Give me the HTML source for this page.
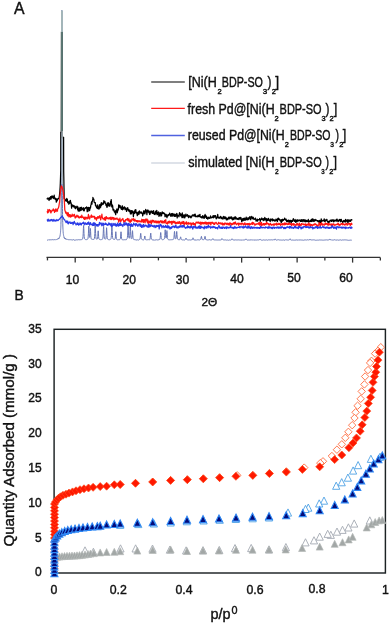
<!DOCTYPE html>
<html><head><meta charset="utf-8"><style>
html,body{margin:0;padding:0;background:#fff;}
svg{display:block;}
text{font-family:'Liberation Sans', Arial, sans-serif;fill:#111;stroke:#111;stroke-width:0.4px;}
</style></head><body>
<svg width="391" height="624" viewBox="0 0 391 624">
<rect width="391" height="624" fill="#fff"/>
<line x1="46.5" y1="257.4" x2="380.3" y2="257.4" stroke="#333" stroke-width="1.3"/>
<line x1="47.46" y1="257.4" x2="47.46" y2="260.4" stroke="#333" stroke-width="1.3"/>
<line x1="75.2" y1="257.4" x2="75.2" y2="262.6" stroke="#333" stroke-width="1.3"/>
<line x1="102.94" y1="257.4" x2="102.94" y2="260.4" stroke="#333" stroke-width="1.3"/>
<line x1="130.68" y1="257.4" x2="130.68" y2="262.6" stroke="#333" stroke-width="1.3"/>
<line x1="158.42" y1="257.4" x2="158.42" y2="260.4" stroke="#333" stroke-width="1.3"/>
<line x1="186.16" y1="257.4" x2="186.16" y2="262.6" stroke="#333" stroke-width="1.3"/>
<line x1="213.9" y1="257.4" x2="213.9" y2="260.4" stroke="#333" stroke-width="1.3"/>
<line x1="241.64" y1="257.4" x2="241.64" y2="262.6" stroke="#333" stroke-width="1.3"/>
<line x1="269.38" y1="257.4" x2="269.38" y2="260.4" stroke="#333" stroke-width="1.3"/>
<line x1="297.12" y1="257.4" x2="297.12" y2="262.6" stroke="#333" stroke-width="1.3"/>
<line x1="324.86" y1="257.4" x2="324.86" y2="260.4" stroke="#333" stroke-width="1.3"/>
<line x1="352.6" y1="257.4" x2="352.6" y2="262.6" stroke="#333" stroke-width="1.3"/>
<line x1="380.34" y1="257.4" x2="380.34" y2="260.4" stroke="#333" stroke-width="1.3"/>
<polyline points="47,239.96 47.2,240.12 47.4,240.19 47.6,240.03 47.8,239.92 48,239.73 48.2,239.76 48.4,239.81 48.6,240.01 48.8,239.96 49,239.74 49.2,239.74 49.4,239.83 49.6,239.9 49.8,239.87 50,239.83 50.2,239.73 50.4,239.76 50.6,239.75 50.8,239.81 51,239.66 51.2,239.71 51.4,239.72 51.6,239.85 51.8,239.81 52,239.93 52.2,239.86 52.4,239.82 52.6,239.61 52.8,239.55 53,239.64 53.2,239.98 53.4,239.96 53.6,239.82 53.8,239.63 54,239.73 54.2,239.75 54.4,239.72 54.6,239.56 54.8,239.57 55,239.61 55.2,239.81 55.4,239.8 55.6,239.7 55.8,239.59 56,239.65 56.2,239.67 56.4,239.56 56.6,239.47 56.8,239.46 57,239.41 57.2,239.24 57.4,239.15 57.6,239.16 57.8,239.24 58,239.11 58,239.04 58.04,238.93 58.08,238.83 58.12,238.79 58.16,238.76 58.2,238.77 58.2,238.91 58.24,238.84 58.28,238.85 58.32,238.71 58.36,238.87 58.4,238.86 58.4,238.88 58.44,238.8 58.48,238.76 58.52,238.72 58.56,238.74 58.6,238.75 58.6,238.9 58.64,238.84 58.68,238.81 58.72,238.67 58.76,238.47 58.8,238.43 58.8,238.43 58.84,238.51 58.88,238.42 58.92,238.32 58.96,238.16 59,238.16 59,238.29 59.04,238.29 59.08,238.23 59.12,238.18 59.16,238.08 59.2,237.97 59.2,237.8 59.24,237.87 59.28,237.85 59.32,237.83 59.36,237.56 59.4,237.46 59.4,237.56 59.44,237.57 59.48,237.47 59.52,237.36 59.56,237.2 59.6,237.14 59.6,237.14 59.64,237.07 59.68,236.9 59.72,236.76 59.76,236.69 59.8,236.61 59.8,236.6 59.84,236.49 59.88,236.3 59.92,236.09 59.96,235.95 60,235.92 60,236.06 60.04,235.79 60.08,235.6 60.12,235.35 60.16,235.18 60.2,234.91 60.2,234.91 60.24,234.78 60.28,234.4 60.32,234.1 60.36,233.65 60.4,233.36 60.4,233.4 60.44,233.1 60.48,232.64 60.52,232.1 60.56,231.59 60.6,231.04 60.6,231.12 60.64,230.53 60.68,230.01 60.72,229.28 60.76,228.65 60.8,227.8 60.8,227.75 60.84,226.8 60.88,225.72 60.92,224.53 60.96,223 61,221.62 61,221.67 61.04,220.11 61.08,218.11 61.12,215.88 61.16,213.24 61.2,210.23 61.2,210.27 61.24,206.89 61.28,203.03 61.32,198.19 61.36,192.51 61.4,185.58 61.4,185.73 61.44,177.59 61.48,167.96 61.52,156.18 61.56,142.07 61.6,125.12 61.6,124.88 61.64,105.01 61.68,82.42 61.72,58.81 61.76,36.27 61.8,18.79 61.8,18.84 61.84,10.39 61.88,13.3 61.92,26.66 61.96,47.12 62,70.72 62,70.9 62.04,94.28 62.08,115.54 62.12,133.76 62.16,149.39 62.2,162.33 62.2,162.35 62.24,172.89 62.28,181.71 62.32,189.19 62.36,195.46 62.4,200.71 62.4,200.6 62.44,204.86 62.48,208.56 62.52,211.8 62.56,214.63 62.6,216.94 62.6,216.94 62.64,219 62.68,220.86 62.72,222.41 62.76,223.69 62.8,224.9 62.8,224.88 62.84,226.09 62.88,227.12 62.92,228.02 62.96,228.91 63,229.68 63,229.73 63.04,230.24 63.08,230.71 63.12,231.31 63.16,231.9 63.2,232.35 63.2,232.28 63.24,232.75 63.28,233.21 63.32,233.62 63.36,233.85 63.4,234.12 63.4,234.06 63.44,234.4 63.48,234.54 63.52,234.78 63.56,234.92 63.6,235.37 63.6,235.5 63.64,235.9 63.68,236.05 63.72,236.08 63.76,236.2 63.8,236.29 63.8,236.36 63.84,236.38 63.88,236.49 63.92,236.61 63.96,236.91 64,237.07 64,237.19 64.04,237.37 64.08,237.39 64.12,237.33 64.16,237.17 64.2,237.34 64.2,237.3 64.24,237.45 64.28,237.6 64.32,237.78 64.36,237.87 64.4,237.88 64.4,237.82 64.44,237.88 64.48,237.98 64.52,238.04 64.56,238.12 64.6,238.05 64.6,238.1 64.64,238.24 64.68,238.39 64.72,238.29 64.76,238.31 64.8,238.32 64.8,238.21 64.84,238.15 64.88,238.25 64.92,238.52 64.96,238.66 65,238.7 65,238.68 65.04,238.5 65.08,238.41 65.12,238.45 65.16,238.66 65.2,238.7 65.2,238.65 65.24,238.66 65.28,238.63 65.32,238.57 65.36,238.54 65.4,238.72 65.4,238.82 65.44,238.7 65.48,238.71 65.52,238.68 65.56,238.9 65.6,238.91 65.6,239.02 65.64,239.04 65.68,239.04 65.72,239.09 65.76,239.16 65.8,239.24 65.8,239.27 65.84,239.16 65.88,239.21 65.92,239.16 65.96,239.15 66,239.1 66.2,239.12 66.4,239.21 66.6,239.28 66.8,239.44 67,239.5 67.2,239.54 67.4,239.4 67.6,239.47 67.8,239.56 68,239.75 68.2,239.79 68.4,239.7 68.6,239.6 68.8,239.58 69,239.54 69.2,239.53 69.4,239.62 69.6,239.66 69.8,239.88 70,239.73 70.2,239.83 70.4,239.63 70.6,239.75 70.8,239.66 71,239.75 71.2,239.73 71.4,239.78 71.6,239.82 71.8,239.94 72,239.93 72.2,239.97 72.4,239.87 72.6,239.91 72.8,240.01 73,239.86 73.2,239.82 73.4,239.54 73.6,239.67 73.8,239.71 74,240.1 74.2,240.14 74.4,240.29 74.6,240.11 74.8,240.06 75,239.97 75.2,240 75.4,240.04 75.6,240.03 75.8,239.95 76,239.83 76.2,239.76 76.4,239.75 76.6,239.89 76.8,239.89 77,239.84 77.2,239.79 77.4,239.85 77.6,239.91 77.8,239.93 78,239.95 78.2,239.8 78.4,239.72 78.6,239.73 78.8,239.71 79,239.8 79.2,239.73 79.4,239.77 79.6,239.79 79.8,239.79 80,239.77 80.2,239.67 80.4,239.71 80.6,239.94 80.8,239.82 81,239.8 81.2,239.56 81.4,239.74 81.6,239.67 81.8,239.45 82,239.39 82.2,239.22 82.4,239.2 82.6,238.71 82.8,238.08 83,236.55 83.2,233.49 83.4,228.65 83.6,225.47 83.6,225.44 83.8,228.53 84,233.54 84.2,236.72 84.4,238.28 84.6,238.85 84.8,239.13 85,239.27 85.2,239.43 85.4,239.46 85.6,239.61 85.8,239.6 86,239.72 86.2,239.62 86.4,239.73 86.6,239.51 86.8,239.6 87,239.45 87.2,239.44 87.4,239.19 87.6,239.19 87.8,239.02 88,238.33 88.2,236.73 88.4,233.77 88.6,229.1 88.8,226.11 88.8,226 89,229.13 89.2,233.64 89.4,236.56 89.6,237.4 89.8,237.07 90,235.11 90.2,231.33 90.4,228.48 90.4,228.46 90.6,231.43 90.8,235.6 91,237.83 91.2,238.7 91.4,239.08 91.6,239.22 91.8,239.27 92,239.36 92.2,239.36 92.4,239.43 92.6,239.36 92.8,239.45 93,239.44 93.2,239.44 93.4,239.44 93.6,239.51 93.8,239.56 94,239.23 94.2,238.89 94.4,238.18 94.6,236.78 94.8,233.44 95,228.45 95.2,225.38 95.2,225.46 95.4,228.59 95.6,233.42 95.8,236.55 96,238.1 96.2,238.88 96.4,239.11 96.6,239.21 96.8,239.11 97,239.13 97.2,239.07 97.4,238.89 97.6,238.17 97.8,236.28 98,233.04 98.2,230.8 98.2,230.91 98.4,233.18 98.6,236.44 98.8,238.26 99,238.98 99.2,239.22 99.4,239.34 99.6,239.53 99.8,239.59 100,239.7 100.2,239.71 100.4,239.74 100.6,239.67 100.8,239.62 101,239.71 101.2,239.74 101.4,239.63 101.6,239.45 101.8,239.43 102,239.45 102.2,239.46 102.4,239.24 102.6,239.06 102.8,238.36 103,237.01 103.2,233.86 103.4,229.36 103.6,226.42 103.6,226.38 103.8,229.3 104,233.8 104.2,236.85 104.4,238.19 104.6,238.69 104.8,238.89 105,239.04 105.2,239.2 105.4,239.19 105.6,238.9 105.8,238.67 106,237.85 106.2,235.58 106.4,230.97 106.6,227.71 106.6,227.7 106.8,230.87 107,235.44 107.2,237.86 107.4,238.91 107.6,239.11 107.8,239.24 108,239.28 108.2,239.44 108.4,239.54 108.6,239.6 108.8,239.63 109,239.67 109.2,239.79 109.4,239.75 109.6,239.65 109.8,239.51 110,239.58 110.2,239.55 110.4,239.46 110.6,239.19 110.8,239.03 111,238.63 111.2,237.63 111.4,235.34 111.6,231.16 111.8,226.43 111.9,225.59 112,226.51 112.2,231.26 112.4,235.4 112.6,237.65 112.8,238.55 113,238.99 113.2,239.03 113.4,239.22 113.6,239.26 113.8,239.35 114,239.45 114.2,239.45 114.4,239.48 114.6,239.37 114.8,239.26 115,239.14 115.2,238.5 115.4,236.96 115.6,233.85 115.8,231.75 115.8,231.71 116,233.89 116.2,236.83 116.4,238.48 116.6,239.24 116.8,239.53 117,239.64 117.2,239.59 117.4,239.83 117.6,239.98 117.8,240.07 118,239.96 118.2,239.81 118.4,239.77 118.6,239.73 118.8,239.78 119,239.72 119.2,239.63 119.4,239.63 119.6,239.66 119.8,239.49 120,239.33 120.2,239.14 120.4,238.61 120.6,237 120.8,233.88 121,231.88 121,231.78 121.2,233.91 121.4,236.76 121.6,238.61 121.8,239.29 122,239.48 122.2,239.48 122.4,239.62 122.6,239.87 122.8,239.79 123,239.69 123.2,239.57 123.4,239.69 123.6,239.83 123.8,239.93 124,239.8 124.2,239.72 124.4,239.63 124.6,239.78 124.8,239.86 125,239.83 125.2,239.69 125.4,239.69 125.6,239.76 125.8,239.98 126,239.87 126.2,239.85 126.4,239.51 126.6,239.38 126.8,239.07 127,238.88 127.2,238.41 127.4,237.44 127.6,235.2 127.8,230.98 128,226.17 128.1,225.23 128.2,226.16 128.4,231.02 128.6,235.2 128.8,237.37 129,238.09 129.2,238.28 129.4,238.14 129.6,237.33 129.8,235.39 130,231.59 130.2,227.24 130.3,226.28 130.4,226.93 130.6,231.35 130.8,235.32 131,237.55 131.2,238.41 131.4,238.67 131.6,238.74 131.8,238.41 132,237.44 132.2,234.87 132.4,231.43 132.5,230.68 132.6,231.32 132.8,234.83 133,237.31 133.2,238.44 133.4,238.99 133.6,239.3 133.8,239.55 134,239.54 134.2,239.6 134.4,239.61 134.6,239.61 134.8,239.54 135,239.61 135.2,239.74 135.4,239.8 135.6,239.78 135.8,239.82 136,240.02 136.2,239.97 136.4,239.97 136.6,239.99 136.8,240.06 137,240.12 137.2,239.8 137.4,239.89 137.6,239.78 137.8,239.83 138,239.77 138.2,239.84 138.4,240.03 138.6,240.04 138.8,239.95 139,239.78 139.2,239.62 139.4,239.55 139.6,239.52 139.8,239.31 140,238.85 140.2,237.8 140.4,235.81 140.6,233.62 140.7,233.26 140.8,233.61 141,235.75 141.2,237.56 141.4,238.64 141.6,239.18 141.8,239.41 142,239.52 142.2,239.53 142.4,239.7 142.6,239.77 142.8,239.78 143,239.79 143.2,239.85 143.4,239.89 143.6,239.86 143.8,239.7 144,239.56 144.2,239.14 144.4,238.48 144.6,237.05 144.8,235.97 144.8,235.99 145,236.92 145.2,238.54 145.4,239.27 145.6,239.61 145.8,239.58 146,239.61 146.2,239.71 146.4,239.76 146.6,239.84 146.8,239.75 147,239.81 147.2,239.77 147.4,239.74 147.6,239.76 147.8,239.67 148,239.63 148.2,239.55 148.4,239.61 148.6,239.83 148.8,239.81 149,239.9 149.2,239.88 149.4,239.92 149.6,239.8 149.8,239.52 150,238.95 150.2,237.81 150.4,235.82 150.6,233.53 150.7,233.02 150.8,233.29 151,235.67 151.2,237.75 151.4,238.85 151.6,239.28 151.8,239.51 152,239.7 152.2,239.82 152.4,239.87 152.6,239.81 152.8,239.77 153,239.77 153.2,239.94 153.4,240.07 153.6,239.92 153.8,239.86 154,239.82 154.2,240.03 154.4,240.16 154.6,240.05 154.8,239.94 155,239.76 155.2,239.88 155.4,239.81 155.6,239.96 155.8,239.97 156,240.1 156.2,239.86 156.4,239.75 156.6,239.77 156.8,239.82 157,239.84 157.2,239.78 157.4,239.93 157.6,239.96 157.8,239.98 158,239.87 158.2,239.84 158.4,239.8 158.6,239.86 158.8,239.81 159,239.86 159.2,239.64 159.4,239.65 159.6,239.45 159.8,239.42 160,238.84 160.2,237.74 160.4,235.58 160.6,233.02 160.7,232.49 160.8,232.85 161,235.41 161.2,237.47 161.4,238.63 161.6,239.09 161.8,239.36 162,239.47 162.2,239.44 162.4,239.63 162.6,239.69 162.8,239.93 163,239.77 163.2,239.64 163.4,239.5 163.6,239.39 163.8,239.4 164,239.21 164.2,239.09 164.4,238.65 164.6,237.65 164.8,235.58 165,232.15 165.2,229.84 165.2,229.78 165.4,231.78 165.6,235.23 165.8,237.18 166,238.05 166.2,238.12 166.4,237.21 166.6,234.75 166.8,231.25 166.9,230.59 167,231.47 167.2,234.92 167.4,237.49 167.6,238.63 167.8,239.06 168,239.33 168.2,239.49 168.4,239.69 168.6,239.74 168.8,239.65 169,239.62 169.2,239.63 169.4,239.71 169.6,239.87 169.8,239.99 170,239.95 170.2,239.82 170.4,239.8 170.6,239.72 170.8,239.74 171,239.67 171.2,239.71 171.4,239.67 171.6,239.71 171.8,239.66 172,239.65 172.2,239.56 172.4,239.66 172.6,239.59 172.8,239.67 173,239.58 173.2,239.56 173.4,239.32 173.6,239.04 173.8,238.42 174,237.19 174.2,234.76 174.4,231.96 174.5,231.39 174.6,231.86 174.8,234.73 175,237.09 175.2,238.34 175.4,238.83 175.6,238.84 175.8,238.83 176,238.24 176.2,237.11 176.4,234.72 176.6,232.01 176.7,231.41 176.8,231.86 177,234.66 177.2,237.11 177.4,238.37 177.6,238.97 177.8,239.34 178,239.43 178.2,239.51 178.4,239.56 178.6,239.73 178.8,239.69 179,239.73 179.2,239.64 179.4,239.73 179.6,239.72 179.8,239.54 180,239.22 180.2,238.47 180.4,237.6 180.6,236.88 180.6,236.84 180.8,237.39 181,238.49 181.2,239.21 181.4,239.57 181.6,239.63 181.8,239.63 182,239.71 182.2,239.81 182.4,239.85 182.6,239.87 182.8,239.78 183,239.61 183.2,239.65 183.4,239.84 183.6,239.93 183.8,239.84 184,239.76 184.2,239.91 184.4,239.99 184.6,240.04 184.8,239.94 185,239.87 185.2,239.7 185.4,239.43 185.6,239.02 185.8,238.41 186,238.14 186,238.03 186.2,238.42 186.4,238.92 186.6,239.43 186.8,239.43 187,239.55 187.2,239.63 187.4,239.81 187.6,239.91 187.8,239.76 188,239.91 188.2,239.94 188.4,240.06 188.6,239.99 188.8,239.97 189,240.07 189.2,240.06 189.4,239.94 189.6,239.83 189.8,239.9 190,240.03 190.2,240.02 190.4,239.97 190.6,239.94 190.8,240 191,239.85 191.2,239.77 191.4,239.76 191.6,239.83 191.8,239.89 192,239.92 192.2,239.8 192.4,239.55 192.6,238.91 192.8,238.26 193,237.87 193,237.81 193.2,238.08 193.4,238.81 193.6,239.36 193.8,239.83 194,239.86 194.2,239.93 194.4,239.93 194.6,239.99 194.8,239.91 195,239.96 195.2,239.85 195.4,239.95 195.6,240.05 195.8,240.12 196,240.22 196.2,240.03 196.4,240.06 196.6,239.96 196.8,240.01 197,239.91 197.2,239.84 197.4,239.84 197.6,239.79 197.8,239.79 198,239.81 198.2,239.87 198.4,239.86 198.6,239.74 198.8,239.78 199,239.81 199.2,239.88 199.4,239.85 199.6,239.98 199.8,239.91 200,239.76 200.2,239.59 200.4,239.52 200.6,239.46 200.8,238.91 201,238.18 201.2,237.05 201.4,236.51 201.4,236.33 201.6,237 201.8,238.11 202,239.11 202.2,239.48 202.4,239.59 202.6,239.6 202.8,239.61 203,239.74 203.2,239.66 203.4,239.71 203.6,239.65 203.8,239.67 204,239.56 204.2,239.33 204.4,238.9 204.6,238.09 204.8,237.05 205,236.4 205,236.28 205.2,236.92 205.4,238.14 205.6,239.12 205.8,239.6 206,239.74 206.2,239.78 206.4,239.71 206.6,239.77 206.8,239.89 207,240.04 207.2,240.03 207.4,239.99 207.6,239.96 207.8,239.96 208,239.94 208.2,239.97 208.4,239.89 208.6,239.85 208.8,239.87 209,239.91 209.2,239.79 209.4,239.76 209.6,239.63 209.8,239.92 210,239.96 210.2,240.16 210.4,239.99 210.6,239.86 210.8,239.8 211,239.84 211.2,239.85 211.4,239.87 211.6,239.9 211.8,239.97 212,239.85 212.2,239.57 212.4,239.35 212.6,239.03 212.8,238.73 213,238.56 213,238.71 213.2,238.98 213.4,239.42 213.6,239.77 213.8,239.94 214,239.97 214.2,239.95 214.4,239.97 214.6,239.94 214.8,239.84 215,239.85 215.2,239.85 215.4,239.96 215.6,239.94 215.8,240.08 216,240.11 216.2,240.05 216.4,240.03 216.6,239.92 216.8,240.09 217,240.06 217.2,240.08 217.4,240.04 217.6,239.97 217.8,239.99 218,239.97 218.2,240 218.4,240 218.6,239.91 218.8,239.95 219,239.85 219.2,239.95 219.4,239.95 219.6,240.07 219.8,239.99 220,240.15 220.2,240.08 220.4,240.12 220.6,239.85 220.8,239.94 221,239.86 221.2,239.89 221.4,239.55 221.6,239.25 221.8,238.69 222,238.54 222,238.5 222.2,238.74 222.4,239.18 222.6,239.47 222.8,239.65 223,239.76 223.2,239.75 223.4,239.89 223.6,239.83 223.8,239.9 224,239.88 224.2,239.95 224.4,239.98 224.6,239.95 224.8,239.97 225,240.06 225.2,240.07 225.4,239.96 225.6,239.85 225.8,239.82 226,239.92 226.2,240.02 226.4,240.08 226.6,240.12 226.8,240.07 227,240.02 227.2,239.91 227.4,240.05 227.6,239.94 227.8,239.99 228,239.89 228.2,240.03 228.4,240.16 228.6,240.21 228.8,240.25 229,240.04 229.2,240 229.4,239.92 229.6,239.98 229.8,239.96 230,239.94 230.2,239.98 230.4,240.06 230.6,240.15 230.8,240.1 231,239.84 231.2,239.77 231.4,239.68 231.6,239.52 231.8,239.04 232,238.79 232,238.75 232.2,239.05 232.4,239.32 232.6,239.59 232.8,239.69 233,239.73 233.2,239.82 233.4,239.88 233.6,239.9 233.8,239.97 234,239.9 234.2,240.03 234.4,239.99 234.6,240 234.8,239.93 235,239.8 235.2,239.79 235.4,239.78 235.6,240 235.8,240.11 236,240.07 236.2,240.02 236.4,239.96 236.6,240.03 236.8,240.01 237,240.05 237.2,240.03 237.4,239.99 237.6,239.95 237.8,239.92 238,239.95 238.2,239.93 238.4,239.95 238.6,239.89 238.8,239.91 239,240.01 239.2,240.09 239.4,240.01 239.6,240.01 239.8,239.99 240,240.09 240.2,240.12 240.4,240.05 240.6,240 240.8,239.88 241,239.89 241.2,240.02 241.4,240.12 241.6,240.07 241.8,239.96 242,239.86 242.2,240.05 242.4,240.03 242.6,240.05 242.8,239.99 243,240.01 243.2,240.02 243.4,239.99 243.6,239.95 243.8,239.98 244,239.92 244.2,239.92 244.4,239.87 244.6,239.9 244.8,239.93 245,239.82 245.2,239.76 245.4,239.51 245.6,239.35 245.8,238.97 246,238.8 246,238.79 246.2,238.94 246.4,239.35 246.6,239.55 246.8,239.79 247,239.82 247.2,239.95 247.4,240.03 247.6,240.17 247.8,240.14 248,240.06 248.2,239.92 248.4,239.96 248.6,240.09 248.8,240.15 249,240.07 249.2,239.99 249.4,239.98 249.6,240.02 249.8,239.96 250,239.78 250.2,239.74 250.4,239.86 250.6,240.04 250.8,239.93 251,239.86 251.2,239.73 251.4,240 251.6,240.01 251.8,240.06 252,239.98 252.2,239.92 252.4,240.03 252.6,239.98 252.8,239.95 253,239.96 253.2,239.87 253.4,240.04 253.6,240 253.8,240.02 254,239.81 254.2,239.91 254.4,240.07 254.6,240.11 254.8,240.11 255,240.03 255.2,240.09 255.4,239.98 255.6,239.95 255.8,240.06 256,240.08 256.2,239.97 256.4,240.01 256.6,240.06 256.8,240.11 257,239.95 257.2,239.83 257.4,239.9 257.6,239.95 257.8,240.02 258,239.98 258.2,239.89 258.4,239.93 258.6,239.95 258.8,240.13 259,240 259.2,240 259.4,239.73 259.6,239.5 259.8,239.22 260,239.04 260,239.04 260.2,239.11 260.4,239.48 260.6,239.69 260.8,239.93 261,239.96 261.2,240.05 261.4,240.07 261.6,240.14 261.8,240.21 262,240.14 262.2,240.15 262.4,240.21 262.6,240.14 262.8,240.01 263,239.9 263.2,239.93 263.4,239.85 263.6,239.92 263.8,239.96 264,240.06 264.2,240.09 264.4,240.05 264.6,240.04 264.8,239.97 265,239.98 265.2,239.98 265.4,240.01 265.6,240.04 265.8,240.13 266,240.03 266.2,240.04 266.4,239.87 266.6,239.91 266.8,239.85 267,240.03 267.2,240.09 267.4,240.16 267.6,240.2 267.8,240.24 268,240.26 268.2,240.09 268.4,239.9 268.6,239.85 268.8,239.87 269,239.93 269.2,239.91 269.4,239.82 269.6,239.96 269.8,239.91 270,239.97 270.2,239.91 270.4,239.88 270.6,239.98 270.8,240.01 271,240.09 271.2,239.96 271.4,239.87 271.6,239.77 271.8,239.93 272,239.96 272.2,240.03 272.4,239.88 272.6,239.91 272.8,240.05 273,240.03 273.2,239.95 273.4,239.73 273.6,239.84 273.8,239.88 274,240.11 274.2,240 274.4,239.84 274.6,239.41 274.8,239.16 275,238.9 275,239 275.2,239.14 275.4,239.53 275.6,239.65 275.8,239.83 276,240.04 276.2,240.1 276.4,240.08 276.6,240.08 276.8,240.08 277,240.03 277.2,239.84 277.4,239.87 277.6,239.89 277.8,239.94 278,239.91 278.2,239.81 278.4,239.75 278.6,239.73 278.8,239.88 279,239.94 279.2,239.94 279.4,239.95 279.6,240.02 279.8,240.02 280,239.94 280.2,239.95 280.4,240.02 280.6,240.01 280.8,239.98 281,239.95 281.2,240.08 281.4,240.01 281.6,240.07 281.8,240.02 282,240.01 282.2,240.03 282.4,240.06 282.6,240.04 282.8,240.1 283,239.96 283.2,239.99 283.4,239.84 283.6,239.96 283.8,240.06 284,240.08 284.2,240.12 284.4,240.11 284.6,240.2 284.8,240.3 285,240.29 285.2,240.02 285.4,239.81 285.6,239.72 285.8,239.9 286,239.93 286.2,239.92 286.4,239.84 286.6,239.81 286.8,239.88 287,239.78 287.2,239.86 287.4,239.88 287.6,240.05 287.8,240 288,239.93 288.2,239.92 288.4,239.96 288.6,240.09 288.8,240.11 289,239.99 289.2,239.81 289.4,239.74 289.6,239.57 289.8,239.28 290,238.86 290,238.77 290.2,238.85 290.4,239.39 290.6,239.7 290.8,239.9 291,239.85 291.2,240.04 291.4,240.19 291.6,240.13 291.8,239.95 292,239.79 292.2,239.77 292.4,239.79 292.6,240.04 292.8,240.27 293,240.26 293.2,240.07 293.4,239.98 293.6,240.05 293.8,239.98 294,239.84 294.2,239.89 294.4,240.01 294.6,240.25 294.8,240.14 295,240.22 295.2,240.07 295.4,240.09 295.6,240.09 295.8,240.2 296,240.14 296.2,240.09 296.4,239.98 296.6,239.91 296.8,239.89 297,240.03 297.2,240.19 297.4,240.06 297.6,240.03 297.8,240.02 298,240.07 298.2,239.84 298.4,239.86 298.6,239.96 298.8,240.16 299,239.97 299.2,239.81 299.4,239.85 299.6,240.02 299.8,240.16 300,240.07 300.2,240.04 300.4,239.97 300.6,239.97 300.8,239.88 301,239.93 301.2,239.93 301.4,240.05 301.6,240.08 301.8,240.06 302,240.12 302.2,239.99 302.4,240.08 302.6,240.02 302.8,240.19 303,240.01 303.2,240 303.4,240 303.6,240.25 303.8,240.03 304,239.89 304.2,239.79 304.4,239.91 304.6,240.05 304.8,240.01 305,240.13 305.2,240.07 305.4,240.02 305.6,239.86 305.8,239.79 306,239.9 306.2,240.03 306.4,240.05 306.6,240.11 306.8,239.93 307,239.73 307.2,239.64 307.4,239.78 307.6,239.97 307.8,239.92 308,239.91 308.2,240.06 308.4,240.12 308.6,240.03 308.8,239.82 309,239.94 309.2,239.93 309.4,239.91 309.6,239.62 309.8,239.38 310,239.09 310,239.08 310.2,239.24 310.4,239.66 310.6,239.89 310.8,239.92 311,239.94 311.2,239.86 311.4,239.96 311.6,239.93 311.8,240 312,239.88 312.2,239.92 312.4,239.87 312.6,239.94 312.8,239.96 313,239.98 313.2,239.97 313.4,239.82 313.6,239.91 313.8,239.88 314,240.01 314.2,239.88 314.4,239.99 314.6,239.94 314.8,240.04 315,240.05 315.2,240.23 315.4,240.27 315.6,240.23 315.8,240.04 316,240.05 316.2,240.08 316.4,240.23 316.6,240.19 316.8,240.12 317,240.02 317.2,240.04 317.4,240.12 317.6,240.09 317.8,240.08 318,240.01 318.2,240.14 318.4,240.1 318.6,240.16 318.8,240.17 319,240.21 319.2,240.04 319.4,240.02 319.6,239.96 319.8,239.98 320,239.97 320.2,239.88 320.4,240.02 320.6,240.08 320.8,240.14 321,240.15 321.2,240.06 321.4,240.14 321.6,239.98 321.8,239.99 322,239.96 322.2,240.1 322.4,240.06 322.6,240.13 322.8,240.1 323,240.14 323.2,240.16 323.4,240.15 323.6,240.18 323.8,240.1 324,240.12 324.2,240.02 324.4,240.05 324.6,240.1 324.8,240.13 325,240.13 325.2,240.08 325.4,240.01 325.6,239.98 325.8,240.04 326,240.08 326.2,239.94 326.4,239.86 326.6,239.85 326.8,240.1 327,240.08 327.2,240.12 327.4,239.95 327.6,239.97 327.8,239.93 328,239.9 328.2,239.88 328.4,239.86 328.6,240 328.8,239.91 329,239.94 329.2,239.76 329.4,239.65 329.6,239.58 329.8,239.23 330,239.28 330,239.07 330.2,239.36 330.4,239.67 330.6,239.81 330.8,239.81 331,239.79 331.2,239.97 331.4,240.03 331.6,239.95 331.8,239.88 332,239.93 332.2,240.04 332.4,240.08 332.6,240.08 332.8,240.06 333,240.22 333.2,240.18 333.4,240.12 333.6,239.94 333.8,239.94 334,239.89 334.2,239.89 334.4,239.81 334.6,239.71 334.8,239.7 335,239.83 335.2,240.05 335.4,240.06 335.6,240.04 335.8,240 336,240.09 336.2,240.09 336.4,240.04 336.6,240.12 336.8,240.11 337,240.08 337.2,239.84 337.4,239.89 337.6,239.91 337.8,240.15 338,240.09 338.2,240.17 338.4,240.1 338.6,240.24 338.8,240.09 339,240.13 339.2,240.02 339.4,240.11 339.6,239.98 339.8,239.95 340,239.93 340.2,239.8 340.4,239.86 340.6,239.89 340.8,239.98 341,239.94 341.2,240.09 341.4,240.18 341.6,240.16 341.8,240.12 342,240.04 342.2,240.06 342.4,239.9 342.6,239.94 342.8,240 343,240.08 343.2,240.05 343.4,239.99 343.6,239.95 343.8,239.98 344,239.98 344.2,239.93 344.4,239.9 344.6,239.91 344.8,239.89 345,239.97 345.2,239.95 345.4,239.96 345.6,239.89 345.8,239.87 346,239.92 346.2,239.97 346.4,239.99 346.6,239.94 346.8,240.03 347,240.1 347.2,240.17 347.4,240.14 347.6,240.1 347.8,240.07 348,240.02 348.2,240.17 348.4,240.26 348.6,240.32 348.8,240.12 349,240.09 349.2,240.17 349.4,240.23 349.6,240.26 349.8,240.19 350,240.21 350.2,240.24 350.4,240.17 350.6,240.16 350.8,240.01 351,240.17 351.2,240.16 351.4,240.21 351.6,240.13 351.8,240.07" fill="none" stroke="#6676b6" stroke-width="1.0" stroke-linejoin="round"/>
<polyline points="47,198.16 47.3,199.14 47.6,198.83 47.9,197.84 48.2,198.53 48.5,198.43 48.8,199.53 49.1,200.49 49.4,197.93 49.7,197.74 50,199.41 50,198.28 50.3,197.82 50.6,196.64 50.9,197.7 51.2,199.04 51.5,196.09 51.8,197.75 52.1,196.48 52.4,196.7 52.7,196.01 53,197.76 53,196.41 53.3,198.53 53.6,197.88 53.9,197.9 54.2,195.21 54.5,198.05 54.8,198.5 55.1,199.25 55.4,198.09 55.7,199.25 56,198.53 56,199.33 56.3,202.09 56.6,199.23 56.9,199.54 57.2,200.95 57.5,198.95 57.8,198.93 58.1,199 58.4,198.94 58.5,198.52 58.7,198.39 59,198.05 59.3,196.36 59.3,197.06 59.6,193.92 59.8,191.74 59.9,191.09 60.2,185.92 60.3,183.77 60.5,177.95 60.75,170.24 60.8,132.02 60.8,132.19 61.1,132.02 61.3,132.25 61.4,82.45 61.5,31.77 61.7,31.95 62,31.83 62,31.88 62.3,111.03 62.4,137.72 62.6,137.73 62.9,138.07 63.2,138 63.5,137.27 63.6,137.43 63.7,171.98 63.8,176.54 64,187.69 64.1,193.06 64.2,198.51 64.4,198.56 64.7,198.72 65,199.41 65.2,199.89 65.3,200.38 65.6,199.88 65.9,200.07 66.2,201.48 66.5,200.05 66.5,199.61 66.8,198.42 67.1,199.96 67.4,199.54 67.7,202.63 68,202.3 68,201.39 68.3,202.78 68.6,201.94 68.9,204.26 69.2,202.45 69.5,203.51 69.8,201.03 70,203.09 70.1,200.68 70.4,200.36 70.7,202.8 71,202.55 71.3,204.74 71.6,208.15 71.9,204.34 72,204.65 72.2,205.64 72.5,206.02 72.8,205.83 73.1,205.3 73.4,206.75 73.7,206.88 74,205.53 74.3,207.06 74.6,206.98 74.9,206.42 75,208.23 75.2,206.29 75.5,208.73 75.8,207.79 76.1,207.59 76.4,206.85 76.7,207.7 77,206.13 77.3,207.19 77.6,209.62 77.9,206.99 78.2,211.06 78.5,208.05 78.8,210.99 79.1,209.11 79.4,211.2 79.7,209.75 80,207.45 80,210.46 80.3,210.65 80.6,208.32 80.9,207.59 81.2,208.1 81.5,207.25 81.8,210.28 82.1,208.28 82.4,209.32 82.7,208.4 83,208.73 83.3,207.6 83.6,210.7 83.9,209.41 84.2,210.87 84.5,209.48 84.8,208.25 85.1,208.38 85.4,207.6 85.7,208.2 86,207.79 86.3,207.88 86.6,206.92 86.9,208.38 87.2,211.71 87.5,208.24 87.8,207.6 88,209.85 88.1,211.13 88.4,207.27 88.7,209.06 89,208.81 89.3,207.63 89.6,210.68 89.9,208.92 90.2,208.48 90.4,207.05 90.5,207.81 90.8,205.4 91.1,204.6 91.4,202.51 91.7,201.76 92,204.05 92,201.89 92.3,201.5 92.6,200.07 92.9,198.5 92.9,197.36 93.2,199.31 93.5,198.82 93.8,199.37 94,199.94 94.1,201.86 94.4,202.47 94.7,202.67 95,202.84 95.3,202.65 95.5,205.68 95.6,205.65 95.9,205.12 96.2,206.73 96.5,207.32 96.7,207.79 96.8,207.95 97.1,206.07 97.4,208.54 97.7,204.95 98,207.38 98.3,206.9 98.6,208.28 98.9,209.19 99.2,208.74 99.5,205.46 99.8,204.53 100.1,207.8 100.3,204.89 100.4,206.6 100.7,207.13 101,203.59 101.3,202.63 101.6,205.31 101.9,204.7 102.2,204.11 102.5,204.23 102.8,203.28 103.1,202.75 103.4,204.1 103.7,202.27 103.9,200.55 104,202.86 104.3,202.54 104.6,202.75 104.9,201.52 105.2,202.75 105.5,203.36 105.8,204.41 106.1,205.57 106.4,204.77 106.5,205.98 106.7,205.87 107,207.44 107.3,202.87 107.6,206.25 107.9,204.65 108.2,204.83 108.5,202.75 108.8,204.24 109,206.02 109.1,204.46 109.4,205.16 109.7,204.01 110,206.2 110.3,204.32 110.6,201.32 110.9,203.12 111,200.54 111.2,199.56 111.5,203.39 111.8,206.96 112.1,205.87 112.4,204.98 112.7,206.22 113,210.06 113,209.26 113.3,209.19 113.6,209.4 113.9,209.49 114.2,211.56 114.5,212.06 114.8,211.82 115.1,211.05 115.4,213.7 115.5,212.51 115.7,214.67 116,210.31 116.3,211.17 116.6,210.75 116.9,208.86 117.2,212.78 117.5,211.87 117.8,209.25 118.1,210.2 118.4,209.33 118.7,204.8 119,207.64 119,206.8 119.3,207.01 119.6,205.35 119.9,205.94 120.2,205.76 120.5,207.85 120.8,207.17 121.1,207.37 121.4,209.36 121.7,206.86 122,207.71 122.3,205.75 122.6,209.79 122.9,208.9 123.2,209.11 123.5,208.62 123.6,207.3 123.8,207.7 124.1,207.46 124.4,206.88 124.7,207.21 125,209.69 125.3,209.18 125.6,208.32 125.9,207.93 126.2,208.56 126.5,211.36 126.8,209.93 127.1,209.51 127.4,209.19 127.7,207.67 128,208.94 128.3,210.99 128.6,210.08 128.9,209.77 129.2,210.82 129.5,211.7 129.8,210.06 130,212.03 130.1,211.1 130.4,213.98 130.7,210.91 131,213.13 131.3,213.92 131.6,210.63 131.9,210.81 132.2,212.01 132.5,212.61 132.8,210.99 133.1,213.46 133.4,216.58 133.7,213.41 134,213.32 134.3,211.49 134.6,213.46 134.9,210.53 135.2,209.87 135.5,212.54 135.8,209.56 136.1,212.4 136.4,213.02 136.7,212.58 137,213.8 137.3,215.58 137.6,213.5 137.9,212.88 138.2,211.9 138.5,213.44 138.8,214.61 139.1,213.94 139.4,210.9 139.7,211.29 140,212.31 140,212.87 140.3,212.61 140.6,212.96 140.9,213.08 141.2,211.94 141.5,212.19 141.8,213.32 142.1,213 142.4,213.77 142.7,215.97 143,214.57 143.3,213.7 143.6,210.91 143.9,213.46 144.2,210.83 144.5,211.14 144.8,213.97 145.1,213.07 145.4,211.77 145.7,209.31 146,210.78 146.3,210.27 146.6,212.04 146.9,214.65 147.2,211.78 147.5,210.66 147.8,209.93 148.1,211.78 148.4,212.03 148.7,210.88 149,212.75 149.3,211.74 149.6,214.42 149.9,214.54 150,213.92 150.2,211 150.5,213.1 150.8,212.36 151.1,212.21 151.4,211.96 151.7,210.92 152,211.55 152.3,213.3 152.6,211.5 152.9,212.46 153.2,213.5 153.5,210.51 153.8,211.73 154.1,213.98 154.4,214.29 154.7,213.32 155,214.54 155.3,212.92 155.6,211.53 155.9,211.06 156.2,213.58 156.5,213.12 156.8,210.48 157.1,214.76 157.4,213.4 157.7,214.47 158,212.46 158.3,212.8 158.6,211.95 158.9,216.32 159.2,213.26 159.5,215.55 159.8,212.95 160.1,214.5 160.4,212.68 160.7,214.51 161,216.09 161.3,213.24 161.6,215.59 161.9,213.8 162.2,211.87 162.5,212.47 162.8,212.8 163.1,213.45 163.4,213.1 163.7,212.74 164,213.93 164.3,213.35 164.6,213.34 164.9,215.17 165,216.72 165.2,214.11 165.5,215.72 165.8,215.52 166.1,214.4 166.4,216.68 166.7,215.13 167,217.7 167.3,215.05 167.6,216.09 167.9,215.52 168.2,214.74 168.5,215.69 168.8,214.56 169.1,215.12 169.4,214.03 169.7,213.05 170,214.23 170.3,214.3 170.6,216.04 170.9,214.35 171.2,215.6 171.5,213.55 171.8,216.18 172.1,214.69 172.4,213.49 172.7,214.81 173,216.18 173.3,214 173.6,214.08 173.9,214.62 174.2,214.19 174.5,216.32 174.8,215.15 175.1,214.25 175.4,216.26 175.7,214.88 176,216.11 176.3,214.46 176.6,213.9 176.9,213.41 177.2,217.94 177.5,214.92 177.8,215.84 178.1,215.35 178.4,215.73 178.7,215.71 179,216.8 179.3,213.75 179.6,212.72 179.9,213.55 180.2,213.43 180.5,215.52 180.8,216 181.1,214.4 181.4,214.23 181.7,215.88 182,217.54 182.3,212.97 182.6,216.93 182.9,215.13 183.2,217.68 183.5,215.01 183.8,215.83 184.1,214.71 184.4,215.19 184.7,217.95 185,217.14 185.3,215.56 185.6,214.95 185.9,214.06 186.2,216 186.5,215.93 186.8,215.73 187.1,216.02 187.4,214.65 187.7,215.34 188,215.43 188.3,216.8 188.6,217.68 188.9,215.84 189.2,215.73 189.5,216.81 189.8,216.57 190.1,216.71 190.4,217.29 190.7,216.16 191,217.87 191.3,216.94 191.6,216.86 191.9,216.23 192.2,215.31 192.5,214.9 192.8,215.51 193.1,215.3 193.4,215.75 193.7,215.48 194,214.53 194.3,216.11 194.6,214.47 194.9,215.5 195,215.94 195.2,214.13 195.5,216.7 195.8,216.6 196.1,216.44 196.4,216.29 196.7,216.55 197,215.93 197.3,216.43 197.6,216.55 197.9,216.85 198.2,215.11 198.5,216.47 198.8,216.21 199.1,215.7 199.4,215 199.7,216.58 200,214.34 200,216.75 200.3,216.87 200.6,216.95 200.9,217.28 201.2,216.54 201.5,217.21 201.8,217.96 202.1,217.66 202.4,217.41 202.7,215.73 203,217.62 203.3,218.01 203.6,217.96 203.9,217.45 204.2,215.78 204.5,218.25 204.8,216.78 205.1,214.43 205.4,217.25 205.7,215.64 206,215.87 206.3,216.38 206.6,218.37 206.9,216.91 207.2,217.8 207.5,218.83 207.8,219.21 208.1,217.72 208.4,218.01 208.7,217.13 209,217.68 209.3,218.43 209.6,217.97 209.9,217.64 210.2,218.16 210.5,215.98 210.8,216.73 211.1,217.72 211.4,217.52 211.7,217.96 212,217.33 212.3,217.19 212.6,217.41 212.9,216.02 213.2,215.57 213.5,217.77 213.8,217.15 214.1,217.31 214.4,215.52 214.7,216.96 215,216.93 215.3,216.46 215.6,215.55 215.9,217.64 216.2,218.88 216.5,218.57 216.8,217.15 217.1,217.57 217.4,217.74 217.7,214.26 218,216.73 218.3,217.11 218.6,217.55 218.9,218.42 219.2,218.26 219.5,217.33 219.8,217.26 220.1,217.74 220.4,216.3 220.7,216.92 221,217.5 221.3,218.73 221.6,217.07 221.9,217.37 222.2,217.64 222.5,218.79 222.8,217.59 223.1,219.03 223.4,216.36 223.7,217.2 224,217.3 224.3,218.19 224.6,218.67 224.9,216.52 225.2,217.51 225.5,218.6 225.8,217.85 226.1,217.48 226.4,219.92 226.7,219.23 227,219.45 227.3,218.44 227.6,219.76 227.9,218.26 228.2,219.15 228.5,217.58 228.8,217.13 229.1,218.16 229.4,217.43 229.7,218.85 230,218.16 230.3,216.99 230.6,218.22 230.9,217.6 231.2,218.66 231.5,216.85 231.8,217.56 232.1,218.89 232.4,219.83 232.7,219.43 233,217.89 233.3,218.43 233.6,219.6 233.9,218.13 234.2,217.14 234.5,218.84 234.8,218.86 235.1,217.69 235.4,216.8 235.7,216.97 236,219.12 236.3,217.81 236.6,218.38 236.9,218.51 237.2,219.14 237.5,218.72 237.8,219.38 238.1,218.09 238.4,218.53 238.7,218.26 239,219.65 239.3,218.21 239.6,217.64 239.9,217.65 240.2,218.35 240.5,219.2 240.8,217.37 241.1,218.27 241.4,219 241.7,221.71 242,219.74 242.3,218.89 242.6,219.97 242.9,220.9 243.2,218.48 243.5,218.48 243.8,220.09 244.1,219.22 244.4,219.06 244.7,218.02 245,220.3 245.3,219.97 245.6,219.18 245.9,219.63 246.2,217.11 246.5,219.61 246.8,219.02 247.1,219.63 247.4,219.83 247.7,218.74 248,217.71 248.3,219.58 248.6,218.28 248.9,218.17 249.2,217.95 249.5,218.15 249.8,216.6 250,219.2 250.1,218.33 250.4,219.26 250.7,219.76 251,218.3 251.3,216.39 251.6,217.57 251.9,217.34 252.2,217.96 252.5,218.66 252.8,216.82 253.1,218.96 253.4,217.59 253.7,219.2 254,219.1 254.3,218.85 254.6,219.34 254.9,219.15 255.2,218.94 255.5,218.07 255.8,219.64 256.1,221.07 256.4,220.88 256.7,220.75 257,220.11 257.3,219.1 257.6,221.12 257.9,220.06 258.2,219.98 258.5,219.59 258.8,219.65 259.1,219.4 259.4,219.52 259.7,218.51 260,219.16 260.3,221.32 260.6,219.56 260.9,219.04 261.2,219.59 261.5,219.49 261.8,217.99 262.1,218.66 262.4,219.58 262.7,219.27 263,218.83 263.3,220.53 263.6,218.7 263.9,219.31 264.2,218.61 264.5,220.05 264.8,217.44 265.1,218.25 265.4,218.43 265.7,219.75 266,220.15 266.3,221.32 266.6,218.7 266.9,220.66 267.2,219.96 267.5,219.52 267.8,220.56 268.1,219.06 268.4,218.36 268.7,220.16 269,219.17 269.3,219.93 269.6,220.67 269.9,220.67 270.2,221.58 270.5,220.11 270.8,218.78 271.1,219.66 271.4,219.45 271.7,219.34 272,220.69 272.3,219.57 272.6,218.91 272.9,220.81 273.2,219.93 273.5,220.03 273.8,219.79 274.1,220.67 274.4,219.85 274.7,221.1 275,220.47 275.3,220.65 275.6,220.85 275.9,219.23 276.2,220.16 276.5,220.03 276.8,220.67 277.1,219.12 277.4,221.52 277.7,219.88 278,218.49 278.3,218.08 278.6,219.34 278.9,219.61 279.2,218.86 279.5,219.86 279.8,219.72 280.1,220.81 280.4,219.9 280.7,220.47 281,221.72 281.3,222.76 281.6,219.71 281.9,219.98 282.2,219.42 282.5,221.09 282.8,219.36 283.1,219.94 283.4,220.29 283.7,219.58 284,219.45 284.3,219.58 284.6,218.2 284.9,218.68 285.2,219.59 285.5,219.9 285.8,220.14 286.1,219.15 286.4,220.35 286.7,221.51 287,221.73 287.3,221.37 287.6,220.33 287.9,221.43 288.2,220.41 288.5,220.18 288.8,220.11 289.1,222.31 289.4,221.16 289.7,222.02 290,220.43 290.3,221.7 290.6,220.37 290.9,220.37 291.2,222.9 291.5,221.58 291.8,220.51 292.1,220.49 292.4,220.65 292.7,221.43 293,219.84 293.3,218.53 293.6,219.83 293.9,220.08 294.2,220.29 294.5,221.37 294.8,220.83 295,220.97 295.1,219.48 295.4,221.12 295.7,222.36 296,221 296.3,220.27 296.6,220.35 296.9,221.85 297.2,219.69 297.5,220.25 297.8,220.96 298.1,221.18 298.4,220.11 298.7,220.71 299,220.26 299.3,220.59 299.6,220.49 299.9,219.91 300.2,220.93 300.5,221.43 300.8,220.12 301.1,221 301.4,221.45 301.7,219.59 302,220.71 302.3,219.73 302.6,221 302.9,221.73 303.2,221.4 303.5,219.54 303.8,220.6 304.1,220.06 304.4,220.31 304.7,221.61 305,219.61 305.3,221.73 305.6,220.67 305.9,221.85 306.2,221.16 306.5,220.45 306.8,220.9 307.1,221.34 307.4,220.88 307.7,221.49 308,220.67 308.3,219.46 308.6,222.07 308.9,221.89 309.2,221.08 309.5,220.98 309.8,221.48 310.1,220.49 310.4,220.39 310.7,220.47 311,221.71 311.3,219.57 311.6,221.45 311.9,219.31 312.2,218.85 312.5,221.22 312.8,220.2 313.1,219.03 313.4,220.17 313.7,221.29 314,221.48 314.3,219.85 314.6,220.42 314.9,220.95 315.2,219.41 315.5,220.32 315.8,220.21 316.1,219.97 316.4,220.19 316.7,220.34 317,220.82 317.3,220.54 317.6,220.57 317.9,221.6 318.2,220.63 318.5,221.55 318.8,221.88 319.1,221.24 319.4,222.8 319.7,220.46 320,221.95 320.3,220.86 320.6,222.42 320.9,221.97 321.2,218.92 321.5,220.07 321.8,221.24 322.1,221.11 322.4,221.05 322.7,220.54 323,220.4 323.3,220.47 323.6,220.1 323.9,221.16 324.2,218.78 324.5,221.29 324.8,220.2 325.1,221.71 325.4,220.53 325.7,219.95 326,220.68 326.3,219.51 326.6,219.56 326.9,219.3 327.2,220.89 327.5,221.59 327.8,222.05 328.1,221.28 328.4,222.58 328.7,221.45 329,221.53 329.3,221.77 329.6,222.03 329.9,220.57 330.2,220.34 330.5,220.5 330.8,220.63 331.1,219.88 331.4,221.49 331.7,220.51 332,221.14 332.3,219.8 332.6,220.52 332.9,220.37 333.2,219.72 333.5,221.78 333.8,220.45 334.1,221.63 334.4,220.71 334.7,220.02 335,220 335.3,220.93 335.6,220.84 335.9,220.95 336.2,220.71 336.5,219.33 336.8,221.15 337.1,219.11 337.4,221.05 337.7,220.41 338,220.68 338.3,221.25 338.6,221.25 338.9,220.12 339.2,219.7 339.5,220.44 339.8,219.46 340.1,219.61 340.4,221.76 340.7,219.5 341,221.43 341.3,219.37 341.6,220.85 341.9,220.83 342.2,221.34 342.5,221.86 342.8,222.67 343.1,221.56 343.4,221.45 343.7,220.48 344,221.47 344.3,220.65 344.6,221.55 344.9,220.52 345.2,222.22 345.5,219.36 345.8,220.7 346.1,221.68 346.4,220.44 346.7,220.4 347,220.75 347.3,219.74 347.6,221.14 347.9,223.05 348.2,222.08 348.5,219.92 348.8,220.11 349.1,220.47 349.4,221.36 349.7,220.19 350,220.37 350.3,221.43 350.6,221.29 350.9,220.02 351.2,219.67 351.5,219.55 351.8,220.03 352,219.3" fill="none" stroke="#000" stroke-width="1.25" stroke-linejoin="round"/>
<polyline points="47,211.74 47.3,211.35 47.6,212.77 47.9,209.5 48.2,212.56 48.5,210.9 48.8,210.43 49.1,210.35 49.4,209.48 49.7,210.87 50,210.82 50.3,212.07 50.6,210.39 50.9,212.91 51.2,212.11 51.5,211.72 51.8,211.08 52,210.69 52.1,210.21 52.4,210.48 52.7,210.66 53,210.44 53.3,208.89 53.6,210.14 53.9,209.75 54.2,210.98 54.5,212.36 54.8,211.41 55.1,210.8 55.4,209.32 55.7,209.17 56,208.88 56,211.53 56.3,209.91 56.6,210.67 56.9,209.84 57.2,210.39 57.5,211.23 57.5,209.05 57.8,209 58.1,208.2 58.4,207.99 58.7,206.88 58.8,206.69 59,205.34 59.3,203.48 59.6,202.01 59.6,202.52 59.9,197.75 60.2,194.16 60.2,194.1 60.5,190.84 60.7,189.14 60.8,188.62 61.1,186.94 61.3,186.61 61.4,185.76 61.7,186.69 62,186.96 62,186.74 62.3,188.08 62.6,189.36 62.9,190.36 63.2,191.7 63.3,192.2 63.5,193.11 63.8,196.4 64.1,199.06 64.3,200.4 64.4,202.24 64.7,207.67 64.8,210.04 65,210.45 65.3,211.47 65.6,212.71 65.8,213.06 65.9,213.28 66.2,212 66.5,213.82 66.8,214.15 67,213.68 67.1,213.29 67.4,215.77 67.7,212.63 68,212.72 68.3,213.12 68.6,215.54 68.9,216.87 69.2,215.37 69.5,214.62 69.8,215.1 70,216.64 70.1,214.61 70.4,216.92 70.7,217.06 71,215.48 71.3,216.05 71.6,215.68 71.9,216.5 72.2,214.04 72.5,216.1 72.8,215.03 73.1,215.18 73.4,216.08 73.7,215.58 74,214.85 74.3,214.35 74.6,215.01 74.9,217.09 75.2,218.17 75.5,216.82 75.8,217.42 76.1,216.03 76.4,216.57 76.7,216.81 77,215.17 77.3,215.87 77.6,216.85 77.9,216.48 78.2,215.86 78.5,217.33 78.8,216.81 79.1,218.06 79.4,217.25 79.7,217.09 80,217.53 80,217.03 80.3,216.46 80.6,216.33 80.9,217.48 81.2,217.24 81.5,217.67 81.8,215.17 82.1,216.69 82.4,216.56 82.7,217.45 83,217.05 83.3,217.22 83.6,218.63 83.9,218.01 84.2,217.02 84.5,219.49 84.8,218.98 85.1,217.55 85.4,218.85 85.7,217.19 86,219.07 86.3,217.48 86.6,217.67 86.9,217.94 87.2,217.43 87.5,218.71 87.8,218.76 88,218.34 88.1,217.33 88.4,214.46 88.7,217.91 89,215.99 89.3,218.02 89.6,219.01 89.9,218.03 90.2,217.01 90.5,216.93 90.8,216.63 91,215.85 91.1,215.7 91.4,215 91.7,217.36 92,216.55 92.3,217.18 92.6,216.07 92.9,216.15 93,216.3 93.2,216.87 93.5,217.09 93.8,216.87 94.1,216.26 94.4,216.31 94.7,218.77 95,217.02 95,217.11 95.3,218.85 95.6,218.72 95.9,218.43 96.2,217.66 96.5,220.22 96.8,218.43 97.1,218.54 97.4,217.71 97.7,216.6 98,216.69 98.3,218.12 98.6,218.08 98.9,217.26 99.2,216.63 99.5,215.99 99.8,216.67 100,215.71 100.1,218.18 100.4,218.47 100.7,219.83 101,218.31 101.3,216.78 101.6,216.8 101.9,214.2 102.2,217.11 102.5,217.68 102.8,218.8 103.1,218.84 103.4,218.82 103.7,218.42 104,219.27 104.3,219.9 104.6,217.68 104.9,218.13 105.2,217.2 105.5,220.25 105.8,219.35 106.1,218.6 106.4,216.72 106.7,218.06 107,218.24 107.3,217.77 107.6,217.83 107.9,218.83 108.2,217.78 108.5,218.92 108.8,218.05 109.1,218.37 109.4,218.29 109.7,217.53 110,219.14 110,218.56 110.3,218.98 110.6,217.6 110.9,217.1 111.2,219.65 111.5,217.88 111.8,219.23 112.1,219.02 112.4,217.48 112.7,218.19 113,218.96 113.3,218.05 113.6,217.57 113.9,219.85 114.2,218.99 114.5,219.04 114.8,218.03 115.1,219.17 115.4,218.39 115.7,218.65 116,219.27 116.3,218.99 116.6,218.63 116.9,217.94 117.2,219.11 117.5,219.38 117.8,219.19 118.1,218.92 118.4,220.09 118.7,222.22 119,219.8 119.3,220.68 119.6,220.6 119.9,218.17 120.2,221.02 120.5,220.17 120.8,222 121.1,220.47 121.4,220.02 121.7,220.2 122,220.03 122.3,219.03 122.6,219.7 122.9,218.5 123.2,219.65 123.5,220.38 123.8,222.05 124.1,221.17 124.4,220.81 124.7,221.63 125,221.19 125,221.94 125.3,220.78 125.6,219.59 125.9,219.51 126.2,219.45 126.5,219.76 126.8,219.98 127.1,219.56 127.4,218.39 127.7,220.18 128,218.76 128.3,220.84 128.6,220.67 128.9,218.84 129.2,221.19 129.5,221.31 129.8,220.62 130,222.15 130.1,222.63 130.4,219.89 130.7,221.93 131,220.92 131.3,220.95 131.6,221.18 131.9,218.86 132.2,219.12 132.5,219.11 132.8,219.49 133.1,220.07 133.4,218.71 133.7,219.7 134,220.86 134.3,220.09 134.6,221.07 134.9,219.04 135.2,220.38 135.5,220.42 135.8,221.05 136.1,220.54 136.4,221.66 136.7,220.53 137,220.59 137.3,220.88 137.6,222 137.9,220.59 138.2,221.82 138.5,221.09 138.8,220.97 139.1,220.75 139.4,221.13 139.7,221.75 140,221.66 140.3,221.48 140.6,221.77 140.9,220.78 141.2,221.74 141.5,220.86 141.8,219.24 142.1,222.22 142.4,220.63 142.7,219.57 143,220.5 143.3,219.69 143.6,222.36 143.9,220.94 144.2,219.6 144.5,221.63 144.8,220.75 145.1,222.78 145.4,219.98 145.7,219.05 146,220.88 146.3,220.26 146.6,220.12 146.9,218.96 147.2,221.53 147.5,222.97 147.8,219.82 148.1,222.9 148.4,221.07 148.7,223.45 149,221.93 149.3,221.13 149.6,222.53 149.9,222.2 150.2,221.45 150.5,222.75 150.8,221.36 151.1,220.25 151.4,223.77 151.7,221.52 152,221.33 152.3,222.11 152.6,220.28 152.9,220.17 153.2,221.08 153.5,220.56 153.8,221.04 154.1,222.65 154.4,221.18 154.7,222.04 155,221.95 155.3,221.09 155.6,222.32 155.9,220.91 156.2,222.84 156.5,222.45 156.8,222.68 157.1,221.23 157.4,222.49 157.7,221.48 158,222.88 158.3,222.3 158.6,221.22 158.9,222.82 159.2,222.47 159.5,221.5 159.8,222.96 160,221.52 160.1,221.08 160.4,221.34 160.7,220.7 161,220.88 161.3,220.93 161.6,222.51 161.9,222.8 162.2,221.14 162.5,222.84 162.8,221.22 163.1,222.06 163.4,222.03 163.7,221.42 164,223.21 164.3,221.34 164.6,220.41 164.9,222.33 165.2,221.34 165.5,221.35 165.8,219.69 166.1,223.45 166.4,223.35 166.7,223.22 167,223.15 167.3,224.14 167.6,222.24 167.9,222.88 168.2,221.29 168.5,221.65 168.8,223.23 169.1,222.47 169.4,221.12 169.7,222.52 170,222.09 170.3,221.66 170.6,222.78 170.9,222.28 171.2,221.37 171.5,221.99 171.8,224.49 172.1,221.33 172.4,222.8 172.7,222.88 173,222.77 173.3,221.05 173.6,221.46 173.9,222.26 174.2,222.79 174.5,221.89 174.8,221.34 175.1,223.06 175.4,223.67 175.7,223 176,222.45 176.3,223.06 176.6,222.78 176.9,223.74 177.2,222.05 177.5,223.1 177.8,222.79 178.1,221.95 178.4,223.49 178.7,223.1 179,222.16 179.3,223.18 179.6,221.59 179.9,223.15 180.2,223.6 180.5,223.68 180.8,224.57 181.1,222.54 181.4,222.08 181.7,223 182,222.84 182.3,223.64 182.6,222.5 182.9,221.38 183.2,223.26 183.5,222.21 183.8,221.67 184.1,225.53 184.4,223.45 184.7,223.68 185,222.79 185.3,223.93 185.6,222.9 185.9,223.35 186.2,221.77 186.5,221.76 186.8,224.43 187.1,224.3 187.4,223.29 187.7,223.17 188,223.16 188.3,222.48 188.6,224.03 188.9,223.09 189.2,223.32 189.5,223.18 189.8,223.89 190.1,223.35 190.4,223.84 190.7,222.84 191,224.09 191.3,225.7 191.6,223.26 191.9,223.41 192.2,224.18 192.5,224.2 192.8,224.07 193.1,222.6 193.4,224.46 193.7,223.32 194,223.67 194.3,224.48 194.6,223.6 194.9,223.9 195.2,225.82 195.5,223.8 195.8,223.69 196.1,222.22 196.4,222.62 196.7,222.32 197,222.71 197.3,222.21 197.6,222.39 197.9,223.17 198.2,222.28 198.5,222.15 198.8,221.99 199.1,223.25 199.4,223.09 199.7,223.71 200,223.68 200,222.73 200.3,223.44 200.6,222.07 200.9,224.81 201.2,223.82 201.5,223.32 201.8,222.28 202.1,223.67 202.4,222.33 202.7,222.82 203,223.79 203.3,223.02 203.6,222.77 203.9,223.78 204.2,222.35 204.5,223.58 204.8,223.11 205.1,222.34 205.4,223.41 205.7,222.15 206,224.13 206.3,222.42 206.6,224.24 206.9,222.71 207.2,224.08 207.5,223.05 207.8,222.72 208.1,223.71 208.4,224.21 208.7,222.48 209,223.9 209.3,222.43 209.6,223.31 209.9,223.61 210.2,223.77 210.5,222.34 210.8,224.97 211.1,223.74 211.4,222.91 211.7,222.43 212,222.18 212.3,222.18 212.6,223.46 212.9,223.15 213.2,222.8 213.5,223.17 213.8,224.4 214.1,223.01 214.4,222.96 214.7,224.33 215,223.36 215.3,223.24 215.6,222.77 215.9,222.29 216.2,222.53 216.5,223.27 216.8,223.86 217.1,224.08 217.4,224.29 217.7,223.83 218,224.02 218.3,223.07 218.6,222.35 218.9,223.5 219.2,222.93 219.5,223.56 219.8,223.58 220.1,222.89 220.4,222.79 220.7,223.61 221,224.13 221.3,223.17 221.6,224.09 221.9,223.51 222.2,222.91 222.5,223.77 222.8,225.06 223.1,223.54 223.4,224.34 223.7,224.58 224,224.81 224.3,223.02 224.6,224.58 224.9,223.27 225.2,223.12 225.5,223.15 225.8,223.73 226.1,223.53 226.4,223.46 226.7,224.56 227,223.51 227.3,223.21 227.6,224.26 227.9,224.36 228.2,224.74 228.5,223.44 228.8,224.69 229.1,224.39 229.4,224.99 229.7,222.77 230,223.85 230.3,223.7 230.6,223.09 230.9,223.74 231.2,225.16 231.5,224.07 231.8,223.73 232.1,224.54 232.4,224.34 232.7,224.38 233,223.11 233.3,223.42 233.6,223.99 233.9,222.61 234.2,222.48 234.5,223.51 234.8,224.09 235.1,222.64 235.4,222.02 235.7,223.16 236,223.56 236.3,224.14 236.6,224.7 236.9,224.19 237.2,223.75 237.5,223.92 237.8,223.18 238.1,223.57 238.4,223.22 238.7,225.28 239,224.03 239.3,223.31 239.6,223.51 239.9,223.99 240.2,223.32 240.5,223.9 240.8,223.87 241.1,224.81 241.4,223.75 241.7,223.35 242,223.05 242.3,223.19 242.6,223.81 242.9,223.74 243.2,224.89 243.5,223.85 243.8,224.87 244.1,224.33 244.4,224.23 244.7,222.81 245,223 245.3,224.52 245.6,224.62 245.9,224.15 246.2,224.43 246.5,223.76 246.8,223.92 247.1,223.57 247.4,224.81 247.7,223.96 248,223.79 248.3,223.62 248.6,224.42 248.9,224.16 249.2,223.43 249.5,225.1 249.8,224.07 250.1,223.88 250.4,224.59 250.7,224.31 251,223.66 251.3,224.12 251.6,223.11 251.9,223.73 252.2,222.45 252.5,224.43 252.8,222.45 253.1,224.02 253.4,223.08 253.7,222.94 254,223.45 254.3,224.11 254.6,224.18 254.9,225.27 255.2,224.63 255.5,224.77 255.8,223.93 256.1,224.52 256.4,224.29 256.7,223.86 257,223.72 257.3,223.93 257.6,223.95 257.9,224.08 258.2,223.24 258.5,223.23 258.8,224.37 259.1,222.75 259.4,223.51 259.7,225.14 260,222.43 260.3,223.41 260.6,224.57 260.9,223.03 261.2,225.79 261.5,222.48 261.8,225.18 262.1,225.26 262.4,224.7 262.7,224.06 263,224.48 263.3,223.56 263.6,224.78 263.9,223.58 264.2,224.18 264.5,225.05 264.8,223.65 265.1,223.84 265.4,224.23 265.7,223.38 266,224.63 266.3,223.75 266.6,222.47 266.9,223.85 267.2,223.16 267.5,223.07 267.8,223.69 268.1,223.63 268.4,224.83 268.7,223.66 269,224.78 269.3,224.43 269.6,225.1 269.9,224.06 270.2,223.9 270.5,223.41 270.8,224.64 271.1,224.55 271.4,225.27 271.7,224.81 272,224.4 272.3,224.31 272.6,224.67 272.9,224.4 273.2,225.17 273.5,225.11 273.8,223.8 274.1,223.75 274.4,225.11 274.7,224.54 275,224.15 275.3,224.54 275.6,223.8 275.9,224.07 276.2,224 276.5,223.1 276.8,225.11 277.1,223.87 277.4,224.22 277.7,223.88 278,224.64 278.3,224.24 278.6,224.3 278.9,223.25 279.2,224.39 279.5,223.56 279.8,224.51 280.1,224.43 280.4,223.85 280.7,225.27 281,224.2 281.3,224.28 281.6,224.21 281.9,223.99 282.2,224.91 282.5,224.8 282.8,223.28 283.1,224.66 283.4,224.19 283.7,224.5 284,224.22 284.3,223.14 284.6,222.98 284.9,224.91 285.2,224.06 285.5,223.09 285.8,224.28 286.1,224.24 286.4,223.6 286.7,223.37 287,223.59 287.3,224.58 287.6,224.2 287.9,223.94 288.2,224.24 288.5,224.44 288.8,222.89 289.1,224.22 289.4,223.99 289.7,223.74 290,224.18 290.3,224.37 290.6,224.17 290.9,223.42 291.2,224.05 291.5,225.53 291.8,223.54 292.1,223.53 292.4,224.78 292.7,224.89 293,224.79 293.3,223.69 293.6,225.07 293.9,223.91 294.2,223.93 294.5,224.37 294.8,224.72 295,225.4 295.1,225.45 295.4,224.79 295.7,225.2 296,224.61 296.3,225.15 296.6,223.76 296.9,223.62 297.2,224.81 297.5,223.7 297.8,224.66 298.1,224.84 298.4,224.52 298.7,224.34 299,225.78 299.3,223.08 299.6,224.96 299.9,225.58 300.2,224.35 300.5,224.62 300.8,224.77 301.1,225.61 301.4,223.58 301.7,224.24 302,223.86 302.3,224.11 302.6,224.27 302.9,224.34 303.2,223.9 303.5,224.65 303.8,224.37 304.1,224.47 304.4,224.65 304.7,224.7 305,224 305.3,225.46 305.6,224.43 305.9,223.94 306.2,225.55 306.5,224.63 306.8,225.53 307.1,224.98 307.4,224.9 307.7,224.46 308,223.82 308.3,224.24 308.6,225.2 308.9,223 309.2,224.76 309.5,225.13 309.8,224.26 310.1,224.06 310.4,226.36 310.7,224.44 311,225.78 311.3,224.83 311.6,224.63 311.9,225 312.2,225.15 312.5,225.51 312.8,225.03 313.1,224.65 313.4,224.72 313.7,225.11 314,224.75 314.3,223.8 314.6,224.13 314.9,224.81 315.2,223.96 315.5,224.46 315.8,223.96 316.1,224.51 316.4,224.86 316.7,225.31 317,225.14 317.3,226.21 317.6,225.11 317.9,226.72 318.2,225.44 318.5,225.02 318.8,224.15 319.1,222.7 319.4,224.18 319.7,224.79 320,225.49 320.3,223.53 320.6,225.44 320.9,224.29 321.2,224.78 321.5,222.64 321.8,224.45 322.1,224.24 322.4,225.09 322.7,224.53 323,223.84 323.3,224.86 323.6,224.8 323.9,224.76 324.2,224.81 324.5,225.06 324.8,224.1 325.1,223.24 325.4,223 325.7,224.48 326,224.17 326.3,223.64 326.6,223.58 326.9,224.2 327.2,224.31 327.5,223.99 327.8,223.61 328.1,225.62 328.4,224.15 328.7,223.53 329,223.36 329.3,223.94 329.6,224.86 329.9,224.61 330.2,224.44 330.5,224.78 330.8,224.26 331.1,223.81 331.4,225.4 331.7,224.99 332,226.32 332.3,224.17 332.6,224.47 332.9,225.04 333.2,224.56 333.5,223.82 333.8,223.93 334.1,224.92 334.4,225.12 334.7,224.92 335,225.27 335.3,225.18 335.6,224.76 335.9,224.47 336.2,224.31 336.5,224.61 336.8,224.7 337.1,224.24 337.4,224.4 337.7,223.79 338,223.12 338.3,223.39 338.6,224.79 338.9,224.51 339.2,225.34 339.5,224.43 339.8,225.01 340.1,225.13 340.4,224.92 340.7,224.01 341,224.31 341.3,224.17 341.6,223.33 341.9,224.13 342.2,224.21 342.5,223.43 342.8,224.84 343.1,223.74 343.4,224.02 343.7,224.38 344,224.17 344.3,224.76 344.6,224.47 344.9,225.17 345.2,224.47 345.5,224.51 345.8,224.04 346.1,223.26 346.4,223.95 346.7,223.72 347,224.99 347.3,224.19 347.6,225.12 347.9,224.18 348.2,224.25 348.5,223.69 348.8,223.3 349.1,223.7 349.4,224.09 349.7,223.27 350,224.17 350.3,225.74 350.6,224.26 350.9,224.16 351.2,223.6 351.5,223.24 351.8,224.51 352,223.64" fill="none" stroke="#ff1414" stroke-width="1.25" stroke-linejoin="round"/>
<polyline points="47,219.49 47.3,219.92 47.6,221.06 47.9,220.87 48.2,219.14 48.5,220.14 48.8,220.47 49.1,221.13 49.4,220.7 49.7,220.33 50,220.68 50,219.55 50.3,220.78 50.6,220 50.9,220.64 51.2,219.68 51.5,219.95 51.8,219.5 52.1,219.7 52.4,221.04 52.7,219.99 53,220.97 53.3,220.23 53.6,221 53.9,219.33 54.2,220.51 54.5,220.45 54.8,220.99 55.1,220.4 55.4,220.47 55.7,221.07 56,220.16 56,220.42 56.3,220.72 56.6,220.05 56.9,219.45 57.2,220.32 57.5,220.13 57.8,220.62 58,220.66 58.1,220.53 58.4,220.11 58.7,219.62 59,219.55 59.3,219.24 59.6,219.18 59.9,218.54 60,218.44 60.2,218.33 60.5,217.67 60.8,217.37 61.1,217.36 61.4,216.99 61.5,216.62 61.7,216.44 62,215.97 62.2,216.06 62.3,216.1 62.6,216.7 62.9,217.22 63,217.45 63.2,217.73 63.5,218.36 63.8,219.09 64.1,219.4 64.4,219.42 64.5,219.68 64.7,219.86 65,220.41 65.3,221.1 65.6,221.43 65.9,221.78 66,222.54 66.2,221.74 66.5,221 66.8,221.07 67.1,221.55 67.4,222.98 67.7,221.14 68,223.26 68.3,223.89 68.6,222.79 68.9,222.63 69.2,222.19 69.5,222.26 69.8,222.55 70,221.88 70.1,222.74 70.4,223.4 70.7,222.89 71,223.12 71.3,222.96 71.6,223.43 71.9,222.27 72.2,223.08 72.5,223.09 72.8,222.43 73.1,224.67 73.4,222.28 73.7,222.36 74,223.31 74.3,221.48 74.6,222.59 74.9,222.6 75.2,223.24 75.5,223.72 75.8,224.07 76.1,224.92 76.4,224.27 76.7,224.25 77,223.26 77.3,222.96 77.6,224.49 77.9,223.23 78.2,223.4 78.5,225.14 78.8,224.83 79.1,224.24 79.4,224.42 79.7,224.68 80,222.88 80,223.79 80.3,223.22 80.6,224.11 80.9,223.7 81.2,225.01 81.5,224.09 81.8,223.3 82.1,223.5 82.4,222.78 82.7,223.41 83,223.58 83.3,223.77 83.6,222.07 83.9,223.53 84.2,223.82 84.5,224.05 84.8,224.78 85.1,222.78 85.4,223.98 85.7,223.01 86,223.99 86.3,223.92 86.6,224.46 86.9,223.67 87.2,224.12 87.5,222.96 87.8,222.58 88.1,224.11 88.4,223.6 88.7,221.99 89,222.97 89.3,223.94 89.6,225.16 89.9,224.65 90.2,224.42 90.5,222.65 90.8,223.93 91.1,224.25 91.4,224.33 91.7,224.5 92,224.23 92.3,225.49 92.6,225.03 92.9,223.92 93.2,222.89 93.5,225.41 93.8,222.99 94.1,224.72 94.4,225.29 94.7,222.95 95,224.17 95.3,223.55 95.6,224.35 95.9,224.53 96.2,225.93 96.5,224.81 96.8,224.47 97.1,225.5 97.4,224.68 97.7,224.55 98,226.41 98.3,224.38 98.6,224.68 98.9,224.96 99.2,223.97 99.5,222.41 99.8,224.91 100.1,223.61 100.4,223.34 100.7,223.39 101,222.93 101.3,223.43 101.6,224.73 101.9,225.9 102.2,224.91 102.5,225.15 102.8,223.17 103.1,224.21 103.4,223.37 103.7,225.36 104,224.67 104.3,224.34 104.6,224.43 104.9,224.12 105.2,223.06 105.5,224.46 105.8,223.36 106.1,223.9 106.4,224.45 106.7,224.12 107,224.86 107.3,225.41 107.6,224.33 107.9,224.45 108.2,224.51 108.5,224.93 108.8,222.88 109.1,224.71 109.4,223.66 109.7,223.49 110,224.53 110.3,224.27 110.6,225.09 110.9,225.73 111.2,223.42 111.5,224.97 111.8,226.56 112.1,225.77 112.4,225.94 112.7,224.69 113,223.3 113.3,223.64 113.6,224.91 113.9,225.26 114.2,224.11 114.5,224.46 114.8,224.97 115.1,223.33 115.4,224.55 115.7,225.74 116,226.14 116.3,224.53 116.6,226.17 116.9,224.41 117.2,224.05 117.5,223.04 117.8,225.68 118.1,224.56 118.4,226.14 118.7,224.65 119,224.64 119.3,223.37 119.6,225.69 119.9,224.22 120.2,224.38 120.5,222.96 120.8,225.32 121.1,225.12 121.4,224.28 121.7,224.92 122,225.29 122.3,225.85 122.6,225.01 122.9,226.5 123.2,224.96 123.5,224.15 123.8,224.52 124.1,222.58 124.4,224.07 124.7,225.25 125,224.55 125.3,223.9 125.6,224.5 125.9,222.62 126.2,223.77 126.5,224.82 126.8,224.69 127.1,223.62 127.4,225.03 127.7,225.84 128,224.39 128.3,225.18 128.6,223.57 128.9,223.33 129.2,225.37 129.5,225.06 129.8,225.17 130,224.37 130.1,224.32 130.4,225.59 130.7,226.45 131,224.9 131.3,223.76 131.6,226.03 131.9,225.7 132.2,225.39 132.5,224.84 132.8,226.37 133.1,224.38 133.4,224.77 133.7,223.22 134,224.2 134.3,224.17 134.6,224.47 134.9,224.98 135.2,224.19 135.5,225.83 135.8,223.51 136.1,224.06 136.4,224.81 136.7,223.8 137,225.17 137.3,225.53 137.6,225.06 137.9,226.48 138.2,225.2 138.5,225.25 138.8,224.48 139.1,223.78 139.4,224.6 139.7,225.23 140,225.35 140.3,226.48 140.6,224.13 140.9,225.26 141.2,224.93 141.5,227.4 141.8,225.83 142.1,225.78 142.4,225.21 142.7,227.08 143,225.97 143.3,226.3 143.6,224.46 143.9,226.94 144.2,226.38 144.5,225.96 144.8,226.2 145.1,225.2 145.4,225.05 145.7,225.8 146,225.58 146.3,225.44 146.6,226.26 146.9,225.87 147.2,226.99 147.5,226.96 147.8,226.12 148.1,227.41 148.4,224.21 148.7,225.19 149,226.79 149.3,225.46 149.6,224.64 149.9,226.98 150,226.54 150.2,225.12 150.5,226.37 150.8,224.91 151.1,224.97 151.4,225.9 151.7,225.83 152,225.28 152.3,226.35 152.6,225.73 152.9,226.43 153.2,226.37 153.5,226.75 153.8,226.16 154.1,225.28 154.4,225.44 154.7,226.21 155,227.54 155.3,227.12 155.6,225.91 155.9,227.05 156.2,225.46 156.5,226.93 156.8,225.66 157.1,226.48 157.4,226.23 157.7,225.63 158,226.26 158.3,225.07 158.6,226.07 158.9,226.7 159.2,228.87 159.5,226.27 159.8,225.3 160.1,224.47 160.4,226.01 160.7,224.36 161,225.14 161.3,225.96 161.6,225.47 161.9,227.76 162.2,227.28 162.5,226.31 162.8,226.43 163.1,225.94 163.4,225.75 163.7,227.15 164,227.51 164.3,227.1 164.6,226.8 164.9,226.41 165.2,226.93 165.5,225.44 165.8,226.31 166.1,227.48 166.4,227.47 166.7,226.06 167,226.23 167.3,227.63 167.6,227.82 167.9,225.42 168.2,226.39 168.5,226.99 168.8,227.84 169.1,226.41 169.4,227.81 169.7,227.28 170,229.01 170.3,227.76 170.6,227.38 170.9,227.3 171.2,228.45 171.5,228.08 171.8,226.75 172.1,227.59 172.4,226.3 172.7,226.66 173,226.05 173.3,226.11 173.6,226.77 173.9,226.31 174.2,227.39 174.5,227.63 174.8,226.79 175.1,225.93 175.4,227.14 175.7,225.2 176,225.25 176.3,227.14 176.6,227.47 176.9,227.92 177.2,227.3 177.5,226.83 177.8,227.49 178.1,228.04 178.4,226.97 178.7,226.9 179,226.27 179.3,226.21 179.6,227.33 179.9,227.09 180.2,225.73 180.5,225.82 180.8,226.2 181.1,227.03 181.4,225.99 181.7,226.81 182,225.57 182.3,226.09 182.6,227.01 182.9,227.02 183.2,225.34 183.5,225.72 183.8,226.61 184.1,225.9 184.4,226.23 184.7,227.18 185,227.45 185.3,228.11 185.6,228.28 185.9,227.63 186.2,227.83 186.5,227.83 186.8,226.83 187.1,226.79 187.4,227.77 187.7,225.61 188,227.54 188.3,227.11 188.6,226.76 188.9,227.18 189.2,227.34 189.5,227.96 189.8,226.56 190.1,226.59 190.4,226.41 190.7,227.78 191,227.2 191.3,226.31 191.6,226.89 191.9,227.05 192.2,227.77 192.5,227.99 192.8,229.12 193.1,226.22 193.4,227.64 193.7,226.99 194,226.42 194.3,226.83 194.6,226.94 194.9,227.24 195.2,227.95 195.5,226.34 195.8,227.88 196.1,226.93 196.4,228.23 196.7,227.5 197,228.15 197.3,227.78 197.6,228.12 197.9,227.17 198.2,226.39 198.5,227.47 198.8,227.6 199.1,228.33 199.4,225.82 199.7,226.89 200,227.78 200,226.17 200.3,226.73 200.6,228.27 200.9,227.78 201.2,226.45 201.5,227.53 201.8,227.73 202.1,227.55 202.4,227.39 202.7,227.64 203,227.09 203.3,227.59 203.6,228.14 203.9,227.89 204.2,228.96 204.5,227.42 204.8,226.15 205.1,227.36 205.4,227.87 205.7,227.54 206,227.27 206.3,226.65 206.6,228.03 206.9,226.47 207.2,227.24 207.5,226.79 207.8,226.24 208.1,227.78 208.4,225.3 208.7,226.46 209,226.92 209.3,226.44 209.6,227.08 209.9,226.64 210.2,226.65 210.5,228.21 210.8,227.3 211.1,227.5 211.4,226.85 211.7,226.98 212,227.7 212.3,227.65 212.6,227 212.9,226.45 213.2,227.59 213.5,226.29 213.8,227.11 214.1,227.15 214.4,226.86 214.7,227.69 215,227.09 215.3,227.14 215.6,228.3 215.9,227.76 216.2,228.17 216.5,227.59 216.8,228.05 217.1,227.62 217.4,228.29 217.7,228.84 218,227.05 218.3,227.03 218.6,226.97 218.9,225.37 219.2,226.57 219.5,227.31 219.8,228.15 220.1,227.41 220.4,228.23 220.7,228.02 221,227.14 221.3,228.33 221.6,228.32 221.9,227.76 222.2,226.97 222.5,228.49 222.8,227.24 223.1,227.18 223.4,227.46 223.7,227.05 224,227.93 224.3,227.79 224.6,228.41 224.9,228 225.2,227.16 225.5,227.49 225.8,227.89 226.1,227.1 226.4,228.72 226.7,226.95 227,226.77 227.3,227.84 227.6,227.83 227.9,227.51 228.2,227.47 228.5,227.87 228.8,228.07 229.1,228 229.4,227.21 229.7,227.7 230,227.71 230.3,227.74 230.6,225.72 230.9,226.94 231.2,227.19 231.5,227.25 231.8,227.71 232.1,228.03 232.4,227.89 232.7,227.39 233,227.57 233.3,228.67 233.6,227.34 233.9,227.63 234.2,228.24 234.5,227.6 234.8,226.44 235.1,227.66 235.4,227.23 235.7,227.66 236,228.3 236.3,227.99 236.6,227.43 236.9,227.83 237.2,227.71 237.5,227.45 237.8,227.54 238.1,227.39 238.4,227.09 238.7,227.34 239,227.42 239.3,226.75 239.6,226.67 239.9,227.96 240.2,226.9 240.5,226.81 240.8,226.75 241.1,226.92 241.4,226.81 241.7,227.04 242,226.8 242.3,227.69 242.6,226.87 242.9,227.87 243.2,226.49 243.5,227 243.8,228.17 244.1,227.29 244.4,226.96 244.7,227.4 245,226.58 245.3,226.9 245.6,225.78 245.9,227.09 246.2,227.02 246.5,227.69 246.8,227.81 247.1,227 247.4,228.19 247.7,226.96 248,226.12 248.3,225.87 248.6,227.93 248.9,227.05 249.2,226.84 249.5,226.72 249.8,226.88 250.1,228.31 250.4,227.48 250.7,228.58 251,227.54 251.3,226.52 251.6,227.87 251.9,227.16 252.2,227.53 252.5,228.3 252.8,227.28 253.1,228.05 253.4,227.56 253.7,227.12 254,227.53 254.3,227.22 254.6,228.17 254.9,227.93 255.2,227.64 255.5,227.83 255.8,227.91 256.1,227.39 256.4,228.06 256.7,227.62 257,228 257.3,227.33 257.6,227.91 257.9,228.09 258.2,227.56 258.5,227.65 258.8,227.6 259.1,228.31 259.4,227.47 259.7,227.98 260,228.36 260.3,227.68 260.6,226.39 260.9,227.32 261.2,227.61 261.5,227.13 261.8,227.78 262.1,227.71 262.4,227.76 262.7,227.38 263,227.38 263.3,227.33 263.6,227.51 263.9,227.83 264.2,227.89 264.5,227.61 264.8,227.86 265.1,228.05 265.4,226.85 265.7,227.25 266,227.2 266.3,227.33 266.6,227.34 266.9,227.51 267.2,227.38 267.5,228.22 267.8,227.96 268.1,226.84 268.4,227.55 268.7,226.79 269,228.29 269.3,226.98 269.6,226.94 269.9,227.26 270.2,227.16 270.5,227.29 270.8,228.16 271.1,227.65 271.4,228.03 271.7,228.31 272,227.25 272.3,228.62 272.6,228.16 272.9,227.96 273.2,226.99 273.5,227.86 273.8,227.76 274.1,227.15 274.4,228.47 274.7,227.94 275,227.5 275.3,227.49 275.6,227.7 275.9,227.8 276.2,227.56 276.5,227.7 276.8,228.06 277.1,226.9 277.4,227.23 277.7,227.07 278,227.42 278.3,228.24 278.6,227.81 278.9,226.9 279.2,227.47 279.5,228.1 279.8,227.45 280.1,227.87 280.4,227.77 280.7,226.84 281,228.19 281.3,227.87 281.6,227.81 281.9,226.68 282.2,227.03 282.5,226.95 282.8,227.24 283.1,227.42 283.4,227.61 283.7,228.58 284,228.2 284.3,227.33 284.6,227.3 284.9,228.61 285.2,227.53 285.5,228.29 285.8,228.5 286.1,227.34 286.4,227.36 286.7,227.38 287,226.8 287.3,226.74 287.6,227.05 287.9,227.55 288.2,227.13 288.5,227.19 288.8,227.4 289.1,227.02 289.4,228.26 289.7,226.29 290,227.02 290.3,227.69 290.6,226.5 290.9,227.62 291.2,228.09 291.5,227.15 291.8,227.82 292.1,227.12 292.4,227.97 292.7,227.74 293,227.87 293.3,228.38 293.6,227.71 293.9,228.09 294.2,227.73 294.5,226.46 294.8,227.07 295.1,227.29 295.4,226.43 295.7,227.81 296,227.32 296.3,227.87 296.6,227.26 296.9,227.84 297.2,228.14 297.5,227.83 297.8,228.13 298.1,226.78 298.4,228.54 298.7,227.04 299,226.37 299.3,226.97 299.6,226.76 299.9,227.66 300.2,226.97 300.5,227.66 300.8,227.19 301.1,228.83 301.4,228.09 301.7,228.66 302,227.16 302.3,228.04 302.6,227.08 302.9,227.94 303.2,227.81 303.5,226.64 303.8,226.89 304.1,226.86 304.4,226.56 304.7,226.88 305,226.77 305.3,226.58 305.6,227.33 305.9,227.58 306.2,226.7 306.5,227.15 306.8,227.37 307.1,226.95 307.4,226.7 307.7,227.28 308,227.26 308.3,227.05 308.6,226.81 308.9,228.09 309.2,228 309.5,227.04 309.8,227.15 310.1,227.77 310.4,226.76 310.7,227.52 311,227.4 311.3,227.26 311.6,227.65 311.9,227.16 312.2,227.62 312.5,226.86 312.8,228.89 313.1,228.22 313.4,228.26 313.7,227.58 314,227.97 314.3,228.14 314.6,228.06 314.9,228 315.2,226.86 315.5,227.68 315.8,227.06 316.1,226.69 316.4,226.65 316.7,227.48 317,227.88 317.3,226.61 317.6,228.32 317.9,228.12 318.2,227.28 318.5,227.3 318.8,227.45 319.1,227.99 319.4,227.18 319.7,226.8 320,227.49 320.3,226.36 320.6,227.55 320.9,228.1 321.2,227.76 321.5,227.92 321.8,227.54 322.1,227.49 322.4,227.02 322.7,226.43 323,226.54 323.3,226.84 323.6,227.65 323.9,227.75 324.2,227.45 324.5,227.04 324.8,227.2 325.1,227.48 325.4,228.27 325.7,228.08 326,227.49 326.3,226.99 326.6,227.83 326.9,227.39 327.2,227.44 327.5,227.19 327.8,228.06 328.1,227.3 328.4,228.29 328.7,228.25 329,227.55 329.3,228.34 329.6,227.87 329.9,227.51 330.2,227.82 330.5,227.37 330.8,228.01 331.1,227.5 331.4,227.75 331.7,227.75 332,225.65 332.3,227.23 332.6,226.25 332.9,227.11 333.2,226.87 333.5,227.64 333.8,228.43 334.1,227.04 334.4,227.89 334.7,228.04 335,226.95 335.3,228.09 335.6,227.6 335.9,227.46 336.2,227.34 336.5,229.17 336.8,227.2 337.1,226.38 337.4,226.93 337.7,227.06 338,227.09 338.3,227.31 338.6,226.99 338.9,227.97 339.2,227.17 339.5,226.84 339.8,227.21 340.1,227.18 340.4,227.67 340.7,227.45 341,227.19 341.3,227.24 341.6,227.35 341.9,228.37 342.2,227.24 342.5,227.6 342.8,227.86 343.1,227.21 343.4,227.74 343.7,227.54 344,227.25 344.3,227.85 344.6,227.96 344.9,228.04 345.2,227.19 345.5,227.78 345.8,228.72 346.1,227.17 346.4,227.91 346.7,227.96 347,227.79 347.3,227.88 347.6,227.76 347.9,228 348.2,228.17 348.5,227.61 348.8,227.88 349.1,227.7 349.4,227.38 349.7,227.37 350,226.99 350.3,227.94 350.6,228.26 350.9,228.15 351.2,228.16 351.5,227 351.8,228.16 352,226.91" fill="none" stroke="#2a3be6" stroke-width="1.25" stroke-linejoin="round"/>
<line x1="62.1" y1="131" x2="62.1" y2="184" stroke="#aebcc0" stroke-width="1.5"/>
<line x1="61.95" y1="10.4" x2="61.95" y2="32" stroke="#a3b6b8" stroke-width="1.9"/>
<line x1="61.95" y1="32" x2="61.95" y2="131" stroke="#5b7773" stroke-width="2.0"/>
<line x1="151.2" y1="82.0" x2="184.8" y2="82.0" stroke="#000" stroke-width="1.15"/>
<line x1="151.2" y1="108.4" x2="184.8" y2="108.4" stroke="#ff1a1a" stroke-width="1.3"/>
<line x1="151.2" y1="135.6" x2="184.8" y2="135.6" stroke="#4f62e0" stroke-width="1.5"/>
<line x1="151.2" y1="163.0" x2="184.8" y2="163.0" stroke="#d3d9e2" stroke-width="1.4"/>
<text x="188.2" y="86.8" font-size="14.0" textLength="28.6" lengthAdjust="spacingAndGlyphs">[Ni(H</text>
<text x="217.45" y="93.8" font-size="7.9" textLength="4.2" lengthAdjust="spacingAndGlyphs">2</text>
<text x="221.8" y="86.8" font-size="14.0" textLength="41.1" lengthAdjust="spacingAndGlyphs">BDP-SO</text>
<text x="262.85" y="93.8" font-size="7.9" textLength="4.5" lengthAdjust="spacingAndGlyphs">3</text>
<text x="267.5" y="86.8" font-size="14.0" textLength="3.9" lengthAdjust="spacingAndGlyphs">)</text>
<text x="271.65" y="93.8" font-size="7.9" textLength="4.1" lengthAdjust="spacingAndGlyphs">2</text>
<text x="275.2" y="86.8" font-size="14.0" textLength="3.9" lengthAdjust="spacingAndGlyphs">]</text>
<text x="187.6" y="113.5" font-size="14.0" textLength="87" lengthAdjust="spacingAndGlyphs">fresh Pd@[Ni(H</text>
<text x="274.45" y="120.5" font-size="7.9" textLength="4.2" lengthAdjust="spacingAndGlyphs">2</text>
<text x="279.6" y="113.5" font-size="14.0" textLength="42" lengthAdjust="spacingAndGlyphs">BDP-SO</text>
<text x="321.45" y="120.5" font-size="7.9" textLength="4.1" lengthAdjust="spacingAndGlyphs">3</text>
<text x="325.4" y="113.5" font-size="14.0" textLength="3.9" lengthAdjust="spacingAndGlyphs">)</text>
<text x="329.45" y="120.5" font-size="7.9" textLength="4.2" lengthAdjust="spacingAndGlyphs">2</text>
<text x="333.8" y="113.5" font-size="14.0" textLength="3.5" lengthAdjust="spacingAndGlyphs">]</text>
<text x="187.8" y="140.4" font-size="14.0" textLength="96.8" lengthAdjust="spacingAndGlyphs">reused Pd@[Ni(H</text>
<text x="284.85" y="147.4" font-size="7.9" textLength="4.1" lengthAdjust="spacingAndGlyphs">2</text>
<text x="290" y="140.4" font-size="14.0" textLength="40.5" lengthAdjust="spacingAndGlyphs">BDP-SO</text>
<text x="330.35" y="147.4" font-size="7.9" textLength="3.7" lengthAdjust="spacingAndGlyphs">3</text>
<text x="335.4" y="140.4" font-size="14.0" textLength="3.5" lengthAdjust="spacingAndGlyphs">)</text>
<text x="339.15" y="147.4" font-size="7.9" textLength="4.2" lengthAdjust="spacingAndGlyphs">2</text>
<text x="342.7" y="140.4" font-size="14.0" textLength="3.5" lengthAdjust="spacingAndGlyphs">]</text>
<text x="188.3" y="167.1" font-size="14.0" textLength="86.3" lengthAdjust="spacingAndGlyphs">simulated [Ni(H</text>
<text x="274.95" y="174.1" font-size="7.9" textLength="3.7" lengthAdjust="spacingAndGlyphs">2</text>
<text x="279.7" y="167.1" font-size="14.0" textLength="42" lengthAdjust="spacingAndGlyphs">BDP-SO</text>
<text x="321.15" y="174.1" font-size="7.9" textLength="3.4" lengthAdjust="spacingAndGlyphs">3</text>
<text x="325.5" y="167.1" font-size="14.0" textLength="3.5" lengthAdjust="spacingAndGlyphs">)</text>
<text x="329.25" y="174.1" font-size="7.9" textLength="4.1" lengthAdjust="spacingAndGlyphs">2</text>
<text x="333.6" y="167.1" font-size="14.0" textLength="3.5" lengthAdjust="spacingAndGlyphs">]</text>
<rect x="54.1" y="329.3" width="331.3" height="243.7" fill="none" stroke="#1c2224" stroke-width="1.45"/>
<path d="M369.8 516.82L373.4 524L366.2 524Z" fill="#fff" stroke="#a4a9b2" stroke-width="0.9" stroke-linejoin="miter"/>
<path d="M354.2 519.92L357.8 527.1L350.6 527.1Z" fill="#fff" stroke="#a4a9b2" stroke-width="0.9" stroke-linejoin="miter"/>
<path d="M348.4 523.82L352 531L344.8 531Z" fill="#fff" stroke="#a4a9b2" stroke-width="0.9" stroke-linejoin="miter"/>
<path d="M342.5 526.22L346.1 533.4L338.9 533.4Z" fill="#fff" stroke="#a4a9b2" stroke-width="0.9" stroke-linejoin="miter"/>
<path d="M337 528.02L340.6 535.2L333.4 535.2Z" fill="#fff" stroke="#a4a9b2" stroke-width="0.9" stroke-linejoin="miter"/>
<path d="M330.8 531.22L334.4 538.4L327.2 538.4Z" fill="#fff" stroke="#a4a9b2" stroke-width="0.9" stroke-linejoin="miter"/>
<path d="M327.7 530.22L331.3 537.4L324.1 537.4Z" fill="#fff" stroke="#a4a9b2" stroke-width="0.9" stroke-linejoin="miter"/>
<path d="M319.7 533.02L323.3 540.2L316.1 540.2Z" fill="#fff" stroke="#a4a9b2" stroke-width="0.9" stroke-linejoin="miter"/>
<path d="M314 536.72L317.6 543.9L310.4 543.9Z" fill="#fff" stroke="#a4a9b2" stroke-width="0.9" stroke-linejoin="miter"/>
<path d="M305.5 538.72L309.1 545.9L301.9 545.9Z" fill="#fff" stroke="#a4a9b2" stroke-width="0.9" stroke-linejoin="miter"/>
<path d="M285.9 543.52L289.5 550.7L282.3 550.7Z" fill="#fff" stroke="#a4a9b2" stroke-width="0.9" stroke-linejoin="miter"/>
<path d="M269 545.82L272.6 553L265.4 553Z" fill="#fff" stroke="#a4a9b2" stroke-width="0.9" stroke-linejoin="miter"/>
<path d="M251.2 544.42L254.8 551.6L247.6 551.6Z" fill="#fff" stroke="#a4a9b2" stroke-width="0.9" stroke-linejoin="miter"/>
<path d="M235 544.52L238.6 551.7L231.4 551.7Z" fill="#fff" stroke="#a4a9b2" stroke-width="0.9" stroke-linejoin="miter"/>
<path d="M219.3 546.42L222.9 553.6L215.7 553.6Z" fill="#fff" stroke="#a4a9b2" stroke-width="0.9" stroke-linejoin="miter"/>
<path d="M203 546.62L206.6 553.8L199.4 553.8Z" fill="#fff" stroke="#a4a9b2" stroke-width="0.9" stroke-linejoin="miter"/>
<path d="M186.1 546.82L189.7 554L182.5 554Z" fill="#fff" stroke="#a4a9b2" stroke-width="0.9" stroke-linejoin="miter"/>
<path d="M169.9 546.02L173.5 553.2L166.3 553.2Z" fill="#fff" stroke="#a4a9b2" stroke-width="0.9" stroke-linejoin="miter"/>
<path d="M152.5 545.02L156.1 552.2L148.9 552.2Z" fill="#fff" stroke="#a4a9b2" stroke-width="0.9" stroke-linejoin="miter"/>
<path d="M135.6 544.82L139.2 552L132 552Z" fill="#fff" stroke="#a4a9b2" stroke-width="0.9" stroke-linejoin="miter"/>
<path d="M120.5 544.82L124.1 552L116.9 552Z" fill="#fff" stroke="#a4a9b2" stroke-width="0.9" stroke-linejoin="miter"/>
<path d="M85 546.82L88.6 554L81.4 554Z" fill="#fff" stroke="#a4a9b2" stroke-width="0.9" stroke-linejoin="miter"/>
<path d="M93.4 548.22L97 555.4L89.8 555.4Z" fill="#fff" stroke="#a4a9b2" stroke-width="0.9" stroke-linejoin="miter"/>
<path d="M54.5 569.33L58 576.31L51 576.31Z" fill="#a2a7a6" stroke="#b6bab9" stroke-width="0.7" stroke-linejoin="miter"/>
<path d="M54.5 565.58L58 572.56L51 572.56Z" fill="#a2a7a6" stroke="#b6bab9" stroke-width="0.7" stroke-linejoin="miter"/>
<path d="M54.5 561.83L58 568.81L51 568.81Z" fill="#a2a7a6" stroke="#b6bab9" stroke-width="0.7" stroke-linejoin="miter"/>
<path d="M54.5 558.08L58 565.06L51 565.06Z" fill="#a2a7a6" stroke="#b6bab9" stroke-width="0.7" stroke-linejoin="miter"/>
<path d="M54.5 554.33L58 561.31L51 561.31Z" fill="#a2a7a6" stroke="#b6bab9" stroke-width="0.7" stroke-linejoin="miter"/>
<path d="M57 553.33L60.5 560.31L53.5 560.31Z" fill="#a2a7a6" stroke="#b6bab9" stroke-width="0.7" stroke-linejoin="miter"/>
<path d="M59.5 552.93L63 559.91L56 559.91Z" fill="#a2a7a6" stroke="#b6bab9" stroke-width="0.7" stroke-linejoin="miter"/>
<path d="M62 552.73L65.5 559.71L58.5 559.71Z" fill="#a2a7a6" stroke="#b6bab9" stroke-width="0.7" stroke-linejoin="miter"/>
<path d="M64.5 552.53L68 559.51L61 559.51Z" fill="#a2a7a6" stroke="#b6bab9" stroke-width="0.7" stroke-linejoin="miter"/>
<path d="M67 552.33L70.5 559.31L63.5 559.31Z" fill="#a2a7a6" stroke="#b6bab9" stroke-width="0.7" stroke-linejoin="miter"/>
<path d="M69.5 552.23L73 559.21L66 559.21Z" fill="#a2a7a6" stroke="#b6bab9" stroke-width="0.7" stroke-linejoin="miter"/>
<path d="M72 552.12L75.5 559.11L68.5 559.11Z" fill="#a2a7a6" stroke="#b6bab9" stroke-width="0.7" stroke-linejoin="miter"/>
<path d="M74.5 552.03L78 559.01L71 559.01Z" fill="#a2a7a6" stroke="#b6bab9" stroke-width="0.7" stroke-linejoin="miter"/>
<path d="M77 551.83L80.5 558.81L73.5 558.81Z" fill="#a2a7a6" stroke="#b6bab9" stroke-width="0.7" stroke-linejoin="miter"/>
<path d="M79.5 551.62L83 558.61L76 558.61Z" fill="#a2a7a6" stroke="#b6bab9" stroke-width="0.7" stroke-linejoin="miter"/>
<path d="M82 551.33L85.5 558.31L78.5 558.31Z" fill="#a2a7a6" stroke="#b6bab9" stroke-width="0.7" stroke-linejoin="miter"/>
<path d="M85 550.93L88.5 557.91L81.5 557.91Z" fill="#a2a7a6" stroke="#b6bab9" stroke-width="0.7" stroke-linejoin="miter"/>
<path d="M88 550.53L91.5 557.51L84.5 557.51Z" fill="#a2a7a6" stroke="#b6bab9" stroke-width="0.7" stroke-linejoin="miter"/>
<path d="M90.5 550.03L94 557.01L87 557.01Z" fill="#a2a7a6" stroke="#b6bab9" stroke-width="0.7" stroke-linejoin="miter"/>
<path d="M93.8 549.62L97.3 556.61L90.3 556.61Z" fill="#a2a7a6" stroke="#b6bab9" stroke-width="0.7" stroke-linejoin="miter"/>
<path d="M100.2 548.93L103.7 555.91L96.7 555.91Z" fill="#a2a7a6" stroke="#b6bab9" stroke-width="0.7" stroke-linejoin="miter"/>
<path d="M106.6 548.53L110.1 555.51L103.1 555.51Z" fill="#a2a7a6" stroke="#b6bab9" stroke-width="0.7" stroke-linejoin="miter"/>
<path d="M114.3 548.33L117.8 555.31L110.8 555.31Z" fill="#a2a7a6" stroke="#b6bab9" stroke-width="0.7" stroke-linejoin="miter"/>
<path d="M120.2 547.73L123.7 554.71L116.7 554.71Z" fill="#a2a7a6" stroke="#b6bab9" stroke-width="0.7" stroke-linejoin="miter"/>
<path d="M137.3 547.12L140.8 554.11L133.8 554.11Z" fill="#a2a7a6" stroke="#b6bab9" stroke-width="0.7" stroke-linejoin="miter"/>
<path d="M152.7 546.53L156.2 553.51L149.2 553.51Z" fill="#a2a7a6" stroke="#b6bab9" stroke-width="0.7" stroke-linejoin="miter"/>
<path d="M170.6 545.93L174.1 552.91L167.1 552.91Z" fill="#a2a7a6" stroke="#b6bab9" stroke-width="0.7" stroke-linejoin="miter"/>
<path d="M187 547.53L190.5 554.51L183.5 554.51Z" fill="#a2a7a6" stroke="#b6bab9" stroke-width="0.7" stroke-linejoin="miter"/>
<path d="M203 547.12L206.5 554.11L199.5 554.11Z" fill="#a2a7a6" stroke="#b6bab9" stroke-width="0.7" stroke-linejoin="miter"/>
<path d="M219 546.93L222.5 553.91L215.5 553.91Z" fill="#a2a7a6" stroke="#b6bab9" stroke-width="0.7" stroke-linejoin="miter"/>
<path d="M236 546.33L239.5 553.31L232.5 553.31Z" fill="#a2a7a6" stroke="#b6bab9" stroke-width="0.7" stroke-linejoin="miter"/>
<path d="M252.5 546.23L256 553.21L249 553.21Z" fill="#a2a7a6" stroke="#b6bab9" stroke-width="0.7" stroke-linejoin="miter"/>
<path d="M269 546.03L272.5 553.01L265.5 553.01Z" fill="#a2a7a6" stroke="#b6bab9" stroke-width="0.7" stroke-linejoin="miter"/>
<path d="M285.7 545.93L289.2 552.91L282.2 552.91Z" fill="#a2a7a6" stroke="#b6bab9" stroke-width="0.7" stroke-linejoin="miter"/>
<path d="M302.1 544.53L305.6 551.51L298.6 551.51Z" fill="#a2a7a6" stroke="#b6bab9" stroke-width="0.7" stroke-linejoin="miter"/>
<path d="M319.7 543.12L323.2 550.11L316.2 550.11Z" fill="#a2a7a6" stroke="#b6bab9" stroke-width="0.7" stroke-linejoin="miter"/>
<path d="M334.7 540.33L338.2 547.31L331.2 547.31Z" fill="#a2a7a6" stroke="#b6bab9" stroke-width="0.7" stroke-linejoin="miter"/>
<path d="M342.5 538.73L346 545.71L339 545.71Z" fill="#a2a7a6" stroke="#b6bab9" stroke-width="0.7" stroke-linejoin="miter"/>
<path d="M348.7 535.93L352.2 542.91L345.2 542.91Z" fill="#a2a7a6" stroke="#b6bab9" stroke-width="0.7" stroke-linejoin="miter"/>
<path d="M352.6 533.33L356.1 540.31L349.1 540.31Z" fill="#a2a7a6" stroke="#b6bab9" stroke-width="0.7" stroke-linejoin="miter"/>
<path d="M366.7 523.93L370.2 530.91L363.2 530.91Z" fill="#a2a7a6" stroke="#b6bab9" stroke-width="0.7" stroke-linejoin="miter"/>
<path d="M371.3 520.83L374.8 527.81L367.8 527.81Z" fill="#a2a7a6" stroke="#b6bab9" stroke-width="0.7" stroke-linejoin="miter"/>
<path d="M375.2 518.53L378.7 525.51L371.7 525.51Z" fill="#a2a7a6" stroke="#b6bab9" stroke-width="0.7" stroke-linejoin="miter"/>
<path d="M379.1 516.93L382.6 523.91L375.6 523.91Z" fill="#a2a7a6" stroke="#b6bab9" stroke-width="0.7" stroke-linejoin="miter"/>
<path d="M382.3 516.53L385.8 523.51L378.8 523.51Z" fill="#a2a7a6" stroke="#b6bab9" stroke-width="0.7" stroke-linejoin="miter"/>
<path d="M380.8 343.5L384.5 347.2L380.8 350.9L377.1 347.2Z" fill="#fff" stroke="#ff6a3c" stroke-width="0.9"/>
<path d="M378 347.1L381.7 350.8L378 354.5L374.3 350.8Z" fill="#fff" stroke="#ff6a3c" stroke-width="0.9"/>
<path d="M375.1 349.9L378.8 353.6L375.1 357.3L371.4 353.6Z" fill="#fff" stroke="#ff6a3c" stroke-width="0.9"/>
<path d="M371.5 357.1L375.2 360.8L371.5 364.5L367.8 360.8Z" fill="#fff" stroke="#ff6a3c" stroke-width="0.9"/>
<path d="M370.1 359.2L373.8 362.9L370.1 366.6L366.4 362.9Z" fill="#fff" stroke="#ff6a3c" stroke-width="0.9"/>
<path d="M368 366.4L371.7 370.1L368 373.8L364.3 370.1Z" fill="#fff" stroke="#ff6a3c" stroke-width="0.9"/>
<path d="M365.1 372.8L368.8 376.5L365.1 380.2L361.4 376.5Z" fill="#fff" stroke="#ff6a3c" stroke-width="0.9"/>
<path d="M364.4 380.7L368.1 384.4L364.4 388.1L360.7 384.4Z" fill="#fff" stroke="#ff6a3c" stroke-width="0.9"/>
<path d="M361.7 387.7L365.4 391.4L361.7 395.1L358 391.4Z" fill="#fff" stroke="#ff6a3c" stroke-width="0.9"/>
<path d="M360.7 395.1L364.4 398.8L360.7 402.5L357 398.8Z" fill="#fff" stroke="#ff6a3c" stroke-width="0.9"/>
<path d="M357.6 402L361.3 405.7L357.6 409.4L353.9 405.7Z" fill="#fff" stroke="#ff6a3c" stroke-width="0.9"/>
<path d="M355.6 408.6L359.3 412.3L355.6 416L351.9 412.3Z" fill="#fff" stroke="#ff6a3c" stroke-width="0.9"/>
<path d="M354.5 414.3L358.2 418L354.5 421.7L350.8 418Z" fill="#fff" stroke="#ff6a3c" stroke-width="0.9"/>
<path d="M352.2 421.5L355.9 425.2L352.2 428.9L348.5 425.2Z" fill="#fff" stroke="#ff6a3c" stroke-width="0.9"/>
<path d="M348.4 428.1L352.1 431.8L348.4 435.5L344.7 431.8Z" fill="#fff" stroke="#ff6a3c" stroke-width="0.9"/>
<path d="M345.3 434.1L349 437.8L345.3 441.5L341.6 437.8Z" fill="#fff" stroke="#ff6a3c" stroke-width="0.9"/>
<path d="M341.8 440.6L345.5 444.3L341.8 448L338.1 444.3Z" fill="#fff" stroke="#ff6a3c" stroke-width="0.9"/>
<path d="M336.9 446L340.6 449.7L336.9 453.4L333.2 449.7Z" fill="#fff" stroke="#ff6a3c" stroke-width="0.9"/>
<path d="M331.9 452.3L335.6 456L331.9 459.7L328.2 456Z" fill="#fff" stroke="#ff6a3c" stroke-width="0.9"/>
<path d="M323 457.6L326.7 461.3L323 465L319.3 461.3Z" fill="#fff" stroke="#ff6a3c" stroke-width="0.9"/>
<path d="M320.3 459.4L324 463.1L320.3 466.8L316.6 463.1Z" fill="#fff" stroke="#ff6a3c" stroke-width="0.9"/>
<path d="M304.2 463.9L307.9 467.6L304.2 471.3L300.5 467.6Z" fill="#fff" stroke="#ff6a3c" stroke-width="0.9"/>
<path d="M286.3 467.7L290 471.4L286.3 475.1L282.6 471.4Z" fill="#fff" stroke="#ff6a3c" stroke-width="0.9"/>
<path d="M269.4 469.5L273.1 473.2L269.4 476.9L265.7 473.2Z" fill="#fff" stroke="#ff6a3c" stroke-width="0.9"/>
<path d="M252.8 471.4L256.5 475.1L252.8 478.8L249.1 475.1Z" fill="#fff" stroke="#ff6a3c" stroke-width="0.9"/>
<path d="M237.2 471.6L240.9 475.3L237.2 479L233.5 475.3Z" fill="#fff" stroke="#ff6a3c" stroke-width="0.9"/>
<path d="M219.6 473.8L223.3 477.5L219.6 481.2L215.9 477.5Z" fill="#fff" stroke="#ff6a3c" stroke-width="0.9"/>
<path d="M203.3 474.9L207 478.6L203.3 482.3L199.6 478.6Z" fill="#fff" stroke="#ff6a3c" stroke-width="0.9"/>
<path d="M187.3 475.8L191 479.5L187.3 483.2L183.6 479.5Z" fill="#fff" stroke="#ff6a3c" stroke-width="0.9"/>
<path d="M170.6 476.5L174.3 480.2L170.6 483.9L166.9 480.2Z" fill="#fff" stroke="#ff6a3c" stroke-width="0.9"/>
<path d="M152.7 478.1L156.4 481.8L152.7 485.5L149 481.8Z" fill="#fff" stroke="#ff6a3c" stroke-width="0.9"/>
<path d="M135.5 479.4L139.2 483.1L135.5 486.8L131.8 483.1Z" fill="#fff" stroke="#ff6a3c" stroke-width="0.9"/>
<path d="M120.2 480.7L123.9 484.4L120.2 488.1L116.5 484.4Z" fill="#fff" stroke="#ff6a3c" stroke-width="0.9"/>
<path d="M54.5 568.5L58 572L54.5 575.5L51 572Z" fill="#ff1800" stroke="#ff4c1e" stroke-width="0.7"/>
<path d="M54.5 565.1L58 568.6L54.5 572.1L51 568.6Z" fill="#ff1800" stroke="#ff4c1e" stroke-width="0.7"/>
<path d="M54.5 561.7L58 565.2L54.5 568.7L51 565.2Z" fill="#ff1800" stroke="#ff4c1e" stroke-width="0.7"/>
<path d="M54.5 558.3L58 561.8L54.5 565.3L51 561.8Z" fill="#ff1800" stroke="#ff4c1e" stroke-width="0.7"/>
<path d="M54.5 554.9L58 558.4L54.5 561.9L51 558.4Z" fill="#ff1800" stroke="#ff4c1e" stroke-width="0.7"/>
<path d="M54.5 551.5L58 555L54.5 558.5L51 555Z" fill="#ff1800" stroke="#ff4c1e" stroke-width="0.7"/>
<path d="M54.5 548.1L58 551.6L54.5 555.1L51 551.6Z" fill="#ff1800" stroke="#ff4c1e" stroke-width="0.7"/>
<path d="M54.5 544.7L58 548.2L54.5 551.7L51 548.2Z" fill="#ff1800" stroke="#ff4c1e" stroke-width="0.7"/>
<path d="M54.5 541.3L58 544.8L54.5 548.3L51 544.8Z" fill="#ff1800" stroke="#ff4c1e" stroke-width="0.7"/>
<path d="M54.5 537.9L58 541.4L54.5 544.9L51 541.4Z" fill="#ff1800" stroke="#ff4c1e" stroke-width="0.7"/>
<path d="M54.5 534L58.5 538L54.5 542L50.5 538Z" fill="#ff1800" stroke="#ff4c1e" stroke-width="0.7"/>
<path d="M54.5 530.6L58.5 534.6L54.5 538.6L50.5 534.6Z" fill="#ff1800" stroke="#ff4c1e" stroke-width="0.7"/>
<path d="M54.5 527.2L58.5 531.2L54.5 535.2L50.5 531.2Z" fill="#ff1800" stroke="#ff4c1e" stroke-width="0.7"/>
<path d="M54.5 523.8L58.5 527.8L54.5 531.8L50.5 527.8Z" fill="#ff1800" stroke="#ff4c1e" stroke-width="0.7"/>
<path d="M54.5 520.4L58.5 524.4L54.5 528.4L50.5 524.4Z" fill="#ff1800" stroke="#ff4c1e" stroke-width="0.7"/>
<path d="M54.5 517L58.5 521L54.5 525L50.5 521Z" fill="#ff1800" stroke="#ff4c1e" stroke-width="0.7"/>
<path d="M54.5 513.6L58.5 517.6L54.5 521.6L50.5 517.6Z" fill="#ff1800" stroke="#ff4c1e" stroke-width="0.7"/>
<path d="M54.5 510.2L58.5 514.2L54.5 518.2L50.5 514.2Z" fill="#ff1800" stroke="#ff4c1e" stroke-width="0.7"/>
<path d="M54.5 506.8L58.5 510.8L54.5 514.8L50.5 510.8Z" fill="#ff1800" stroke="#ff4c1e" stroke-width="0.7"/>
<path d="M54.5 503.4L58.5 507.4L54.5 511.4L50.5 507.4Z" fill="#ff1800" stroke="#ff4c1e" stroke-width="0.7"/>
<path d="M54.5 500L58.5 504L54.5 508L50.5 504Z" fill="#ff1800" stroke="#ff4c1e" stroke-width="0.7"/>
<path d="M55.5 498L59.5 502L55.5 506L51.5 502Z" fill="#ff1800" stroke="#ff4c1e" stroke-width="0.7"/>
<path d="M56.8 496L60.8 500L56.8 504L52.8 500Z" fill="#ff1800" stroke="#ff4c1e" stroke-width="0.7"/>
<path d="M58.5 494.3L62.5 498.3L58.5 502.3L54.5 498.3Z" fill="#ff1800" stroke="#ff4c1e" stroke-width="0.7"/>
<path d="M60.5 492.8L64.5 496.8L60.5 500.8L56.5 496.8Z" fill="#ff1800" stroke="#ff4c1e" stroke-width="0.7"/>
<path d="M63 491.3L67 495.3L63 499.3L59 495.3Z" fill="#ff1800" stroke="#ff4c1e" stroke-width="0.7"/>
<path d="M66 490.2L70 494.2L66 498.2L62 494.2Z" fill="#ff1800" stroke="#ff4c1e" stroke-width="0.7"/>
<path d="M69 489.1L73 493.1L69 497.1L65 493.1Z" fill="#ff1800" stroke="#ff4c1e" stroke-width="0.7"/>
<path d="M72.5 487.9L76.5 491.9L72.5 495.9L68.5 491.9Z" fill="#ff1800" stroke="#ff4c1e" stroke-width="0.7"/>
<path d="M76 486.8L80 490.8L76 494.8L72 490.8Z" fill="#ff1800" stroke="#ff4c1e" stroke-width="0.7"/>
<path d="M80 485.7L84 489.7L80 493.7L76 489.7Z" fill="#ff1800" stroke="#ff4c1e" stroke-width="0.7"/>
<path d="M84 484.8L88 488.8L84 492.8L80 488.8Z" fill="#ff1800" stroke="#ff4c1e" stroke-width="0.7"/>
<path d="M88.5 484L92.5 488L88.5 492L84.5 488Z" fill="#ff1800" stroke="#ff4c1e" stroke-width="0.7"/>
<path d="M93.1 483.3L97.1 487.3L93.1 491.3L89.1 487.3Z" fill="#ff1800" stroke="#ff4c1e" stroke-width="0.7"/>
<path d="M100.2 482.6L104.2 486.6L100.2 490.6L96.2 486.6Z" fill="#ff1800" stroke="#ff4c1e" stroke-width="0.7"/>
<path d="M106.6 482.2L110.6 486.2L106.6 490.2L102.6 486.2Z" fill="#ff1800" stroke="#ff4c1e" stroke-width="0.7"/>
<path d="M114.3 480.8L118.3 484.8L114.3 488.8L110.3 484.8Z" fill="#ff1800" stroke="#ff4c1e" stroke-width="0.7"/>
<path d="M120.2 480.6L124.2 484.6L120.2 488.6L116.2 484.6Z" fill="#ff1800" stroke="#ff4c1e" stroke-width="0.7"/>
<path d="M135.5 479.3L139.5 483.3L135.5 487.3L131.5 483.3Z" fill="#ff1800" stroke="#ff4c1e" stroke-width="0.7"/>
<path d="M152.7 478L156.7 482L152.7 486L148.7 482Z" fill="#ff1800" stroke="#ff4c1e" stroke-width="0.7"/>
<path d="M170.6 476.4L174.6 480.4L170.6 484.4L166.6 480.4Z" fill="#ff1800" stroke="#ff4c1e" stroke-width="0.7"/>
<path d="M187.3 475.7L191.3 479.7L187.3 483.7L183.3 479.7Z" fill="#ff1800" stroke="#ff4c1e" stroke-width="0.7"/>
<path d="M203.3 474.8L207.3 478.8L203.3 482.8L199.3 478.8Z" fill="#ff1800" stroke="#ff4c1e" stroke-width="0.7"/>
<path d="M219.6 473.7L223.6 477.7L219.6 481.7L215.6 477.7Z" fill="#ff1800" stroke="#ff4c1e" stroke-width="0.7"/>
<path d="M235.9 472.3L239.9 476.3L235.9 480.3L231.9 476.3Z" fill="#ff1800" stroke="#ff4c1e" stroke-width="0.7"/>
<path d="M252.8 471.4L256.8 475.4L252.8 479.4L248.8 475.4Z" fill="#ff1800" stroke="#ff4c1e" stroke-width="0.7"/>
<path d="M269.4 469.6L273.4 473.6L269.4 477.6L265.4 473.6Z" fill="#ff1800" stroke="#ff4c1e" stroke-width="0.7"/>
<path d="M286.3 468.1L290.3 472.1L286.3 476.1L282.3 472.1Z" fill="#ff1800" stroke="#ff4c1e" stroke-width="0.7"/>
<path d="M302.4 465.4L306.4 469.4L302.4 473.4L298.4 469.4Z" fill="#ff1800" stroke="#ff4c1e" stroke-width="0.7"/>
<path d="M319.7 462.8L323.7 466.8L319.7 470.8L315.7 466.8Z" fill="#ff1800" stroke="#ff4c1e" stroke-width="0.7"/>
<path d="M334.6 455.6L338.6 459.6L334.6 463.6L330.6 459.6Z" fill="#ff1800" stroke="#ff4c1e" stroke-width="0.7"/>
<path d="M341.8 451L345.8 455L341.8 459L337.8 455Z" fill="#ff1800" stroke="#ff4c1e" stroke-width="0.7"/>
<path d="M348.9 443.7L352.9 447.7L348.9 451.7L344.9 447.7Z" fill="#ff1800" stroke="#ff4c1e" stroke-width="0.7"/>
<path d="M353 439L357 443L353 447L349 443Z" fill="#ff1800" stroke="#ff4c1e" stroke-width="0.7"/>
<path d="M356.5 433.9L360.5 437.9L356.5 441.9L352.5 437.9Z" fill="#ff1800" stroke="#ff4c1e" stroke-width="0.7"/>
<path d="M360.2 427.2L364.2 431.2L360.2 435.2L356.2 431.2Z" fill="#ff1800" stroke="#ff4c1e" stroke-width="0.7"/>
<path d="M362.2 420.8L366.2 424.8L362.2 428.8L358.2 424.8Z" fill="#ff1800" stroke="#ff4c1e" stroke-width="0.7"/>
<path d="M364.8 413.5L368.8 417.5L364.8 421.5L360.8 417.5Z" fill="#ff1800" stroke="#ff4c1e" stroke-width="0.7"/>
<path d="M366.8 407.1L370.8 411.1L366.8 415.1L362.8 411.1Z" fill="#ff1800" stroke="#ff4c1e" stroke-width="0.7"/>
<path d="M368.3 399.4L372.3 403.4L368.3 407.4L364.3 403.4Z" fill="#ff1800" stroke="#ff4c1e" stroke-width="0.7"/>
<path d="M370.6 393.3L374.6 397.3L370.6 401.3L366.6 397.3Z" fill="#ff1800" stroke="#ff4c1e" stroke-width="0.7"/>
<path d="M372.2 386.4L376.2 390.4L372.2 394.4L368.2 390.4Z" fill="#ff1800" stroke="#ff4c1e" stroke-width="0.7"/>
<path d="M373 378.3L377 382.3L373 386.3L369 382.3Z" fill="#ff1800" stroke="#ff4c1e" stroke-width="0.7"/>
<path d="M374.4 372.5L378.4 376.5L374.4 380.5L370.4 376.5Z" fill="#ff1800" stroke="#ff4c1e" stroke-width="0.7"/>
<path d="M375.8 368.2L379.8 372.2L375.8 376.2L371.8 372.2Z" fill="#ff1800" stroke="#ff4c1e" stroke-width="0.7"/>
<path d="M376.5 362.5L380.5 366.5L376.5 370.5L372.5 366.5Z" fill="#ff1800" stroke="#ff4c1e" stroke-width="0.7"/>
<path d="M378 356.1L382 360.1L378 364.1L374 360.1Z" fill="#ff1800" stroke="#ff4c1e" stroke-width="0.7"/>
<path d="M379.4 348.2L383.4 352.2L379.4 356.2L375.4 352.2Z" fill="#ff1800" stroke="#ff4c1e" stroke-width="0.7"/>
<path d="M380 453.22L383.6 460.4L376.4 460.4Z" fill="#fff" stroke="#4ea2e4" stroke-width="0.9" stroke-linejoin="miter"/>
<path d="M370.9 455.22L374.5 462.4L367.3 462.4Z" fill="#fff" stroke="#4ea2e4" stroke-width="0.9" stroke-linejoin="miter"/>
<path d="M358.1 461.52L361.7 468.7L354.5 468.7Z" fill="#fff" stroke="#4ea2e4" stroke-width="0.9" stroke-linejoin="miter"/>
<path d="M353.1 466.92L356.7 474.1L349.5 474.1Z" fill="#fff" stroke="#4ea2e4" stroke-width="0.9" stroke-linejoin="miter"/>
<path d="M347.9 474.02L351.5 481.2L344.3 481.2Z" fill="#fff" stroke="#4ea2e4" stroke-width="0.9" stroke-linejoin="miter"/>
<path d="M341.7 478.62L345.3 485.8L338.1 485.8Z" fill="#fff" stroke="#4ea2e4" stroke-width="0.9" stroke-linejoin="miter"/>
<path d="M336.2 482.12L339.8 489.3L332.6 489.3Z" fill="#fff" stroke="#4ea2e4" stroke-width="0.9" stroke-linejoin="miter"/>
<path d="M324 497.02L327.6 504.2L320.4 504.2Z" fill="#fff" stroke="#4ea2e4" stroke-width="0.9" stroke-linejoin="miter"/>
<path d="M319.2 499.82L322.8 507L315.6 507Z" fill="#fff" stroke="#4ea2e4" stroke-width="0.9" stroke-linejoin="miter"/>
<path d="M308.3 504.02L311.9 511.2L304.7 511.2Z" fill="#fff" stroke="#4ea2e4" stroke-width="0.9" stroke-linejoin="miter"/>
<path d="M305.5 505.32L309.1 512.5L301.9 512.5Z" fill="#fff" stroke="#4ea2e4" stroke-width="0.9" stroke-linejoin="miter"/>
<path d="M288 508.92L291.6 516.1L284.4 516.1Z" fill="#fff" stroke="#4ea2e4" stroke-width="0.9" stroke-linejoin="miter"/>
<path d="M269 513.82L272.6 521L265.4 521Z" fill="#fff" stroke="#4ea2e4" stroke-width="0.9" stroke-linejoin="miter"/>
<path d="M252.7 514.62L256.3 521.8L249.1 521.8Z" fill="#fff" stroke="#4ea2e4" stroke-width="0.9" stroke-linejoin="miter"/>
<path d="M235.8 515.32L239.4 522.5L232.2 522.5Z" fill="#fff" stroke="#4ea2e4" stroke-width="0.9" stroke-linejoin="miter"/>
<path d="M219.7 516.12L223.3 523.3L216.1 523.3Z" fill="#fff" stroke="#4ea2e4" stroke-width="0.9" stroke-linejoin="miter"/>
<path d="M203.6 516.82L207.2 524L200 524Z" fill="#fff" stroke="#4ea2e4" stroke-width="0.9" stroke-linejoin="miter"/>
<path d="M186.8 517.62L190.4 524.8L183.2 524.8Z" fill="#fff" stroke="#4ea2e4" stroke-width="0.9" stroke-linejoin="miter"/>
<path d="M170.7 518.82L174.3 526L167.1 526Z" fill="#fff" stroke="#4ea2e4" stroke-width="0.9" stroke-linejoin="miter"/>
<path d="M153.9 519.82L157.5 527L150.3 527Z" fill="#fff" stroke="#4ea2e4" stroke-width="0.9" stroke-linejoin="miter"/>
<path d="M138.3 520.42L141.9 527.6L134.7 527.6Z" fill="#fff" stroke="#4ea2e4" stroke-width="0.9" stroke-linejoin="miter"/>
<path d="M120.2 521.22L123.8 528.4L116.6 528.4Z" fill="#fff" stroke="#4ea2e4" stroke-width="0.9" stroke-linejoin="miter"/>
<path d="M54.4 569.83L57.9 576.81L50.9 576.81Z" fill="#040c7a" stroke="#2f88f5" stroke-width="1.1" stroke-linejoin="miter"/>
<path d="M54.4 566.38L57.9 573.36L50.9 573.36Z" fill="#040c7a" stroke="#2f88f5" stroke-width="1.1" stroke-linejoin="miter"/>
<path d="M54.4 562.93L57.9 569.91L50.9 569.91Z" fill="#040c7a" stroke="#2f88f5" stroke-width="1.1" stroke-linejoin="miter"/>
<path d="M54.4 559.48L57.9 566.46L50.9 566.46Z" fill="#040c7a" stroke="#2f88f5" stroke-width="1.1" stroke-linejoin="miter"/>
<path d="M54.4 556.03L57.9 563.01L50.9 563.01Z" fill="#040c7a" stroke="#2f88f5" stroke-width="1.1" stroke-linejoin="miter"/>
<path d="M54.4 552.58L57.9 559.56L50.9 559.56Z" fill="#040c7a" stroke="#2f88f5" stroke-width="1.1" stroke-linejoin="miter"/>
<path d="M54.4 549.12L57.9 556.11L50.9 556.11Z" fill="#040c7a" stroke="#2f88f5" stroke-width="1.1" stroke-linejoin="miter"/>
<path d="M54.4 545.68L57.9 552.66L50.9 552.66Z" fill="#040c7a" stroke="#2f88f5" stroke-width="1.1" stroke-linejoin="miter"/>
<path d="M54.4 542.23L57.9 549.21L50.9 549.21Z" fill="#040c7a" stroke="#2f88f5" stroke-width="1.1" stroke-linejoin="miter"/>
<path d="M54.4 538.78L57.9 545.76L50.9 545.76Z" fill="#040c7a" stroke="#2f88f5" stroke-width="1.1" stroke-linejoin="miter"/>
<path d="M54.4 535.33L57.9 542.31L50.9 542.31Z" fill="#040c7a" stroke="#2f88f5" stroke-width="1.1" stroke-linejoin="miter"/>
<path d="M55.6 533.93L59.1 540.91L52.1 540.91Z" fill="#040c7a" stroke="#2f88f5" stroke-width="1.1" stroke-linejoin="miter"/>
<path d="M57.2 531.93L60.7 538.91L53.7 538.91Z" fill="#040c7a" stroke="#2f88f5" stroke-width="1.1" stroke-linejoin="miter"/>
<path d="M59.3 530.12L62.8 537.11L55.8 537.11Z" fill="#040c7a" stroke="#2f88f5" stroke-width="1.1" stroke-linejoin="miter"/>
<path d="M61.8 528.73L65.3 535.71L58.3 535.71Z" fill="#040c7a" stroke="#2f88f5" stroke-width="1.1" stroke-linejoin="miter"/>
<path d="M64.7 527.43L68.2 534.41L61.2 534.41Z" fill="#040c7a" stroke="#2f88f5" stroke-width="1.1" stroke-linejoin="miter"/>
<path d="M67.8 526.53L71.3 533.51L64.3 533.51Z" fill="#040c7a" stroke="#2f88f5" stroke-width="1.1" stroke-linejoin="miter"/>
<path d="M71.2 525.73L74.7 532.71L67.7 532.71Z" fill="#040c7a" stroke="#2f88f5" stroke-width="1.1" stroke-linejoin="miter"/>
<path d="M75 525.12L78.5 532.11L71.5 532.11Z" fill="#040c7a" stroke="#2f88f5" stroke-width="1.1" stroke-linejoin="miter"/>
<path d="M79 524.53L82.5 531.51L75.5 531.51Z" fill="#040c7a" stroke="#2f88f5" stroke-width="1.1" stroke-linejoin="miter"/>
<path d="M83 524.03L86.5 531.01L79.5 531.01Z" fill="#040c7a" stroke="#2f88f5" stroke-width="1.1" stroke-linejoin="miter"/>
<path d="M87.5 523.53L91 530.51L84 530.51Z" fill="#040c7a" stroke="#2f88f5" stroke-width="1.1" stroke-linejoin="miter"/>
<path d="M92.2 522.93L95.7 529.91L88.7 529.91Z" fill="#040c7a" stroke="#2f88f5" stroke-width="1.1" stroke-linejoin="miter"/>
<path d="M97.3 522.62L100.8 529.61L93.8 529.61Z" fill="#040c7a" stroke="#2f88f5" stroke-width="1.1" stroke-linejoin="miter"/>
<path d="M100.2 522.33L103.7 529.31L96.7 529.31Z" fill="#040c7a" stroke="#2f88f5" stroke-width="1.1" stroke-linejoin="miter"/>
<path d="M106.6 520.93L110.1 527.91L103.1 527.91Z" fill="#040c7a" stroke="#2f88f5" stroke-width="1.1" stroke-linejoin="miter"/>
<path d="M114.3 520.53L117.8 527.51L110.8 527.51Z" fill="#040c7a" stroke="#2f88f5" stroke-width="1.1" stroke-linejoin="miter"/>
<path d="M120.2 520.03L123.7 527.01L116.7 527.01Z" fill="#040c7a" stroke="#2f88f5" stroke-width="1.1" stroke-linejoin="miter"/>
<path d="M137.3 519.33L140.8 526.31L133.8 526.31Z" fill="#040c7a" stroke="#2f88f5" stroke-width="1.1" stroke-linejoin="miter"/>
<path d="M152.7 518.73L156.2 525.71L149.2 525.71Z" fill="#040c7a" stroke="#2f88f5" stroke-width="1.1" stroke-linejoin="miter"/>
<path d="M170.6 517.53L174.1 524.51L167.1 524.51Z" fill="#040c7a" stroke="#2f88f5" stroke-width="1.1" stroke-linejoin="miter"/>
<path d="M187 516.33L190.5 523.31L183.5 523.31Z" fill="#040c7a" stroke="#2f88f5" stroke-width="1.1" stroke-linejoin="miter"/>
<path d="M203 515.62L206.5 522.61L199.5 522.61Z" fill="#040c7a" stroke="#2f88f5" stroke-width="1.1" stroke-linejoin="miter"/>
<path d="M219 514.93L222.5 521.91L215.5 521.91Z" fill="#040c7a" stroke="#2f88f5" stroke-width="1.1" stroke-linejoin="miter"/>
<path d="M236 514.12L239.5 521.11L232.5 521.11Z" fill="#040c7a" stroke="#2f88f5" stroke-width="1.1" stroke-linejoin="miter"/>
<path d="M252.5 513.33L256 520.31L249 520.31Z" fill="#040c7a" stroke="#2f88f5" stroke-width="1.1" stroke-linejoin="miter"/>
<path d="M269 512.62L272.5 519.61L265.5 519.61Z" fill="#040c7a" stroke="#2f88f5" stroke-width="1.1" stroke-linejoin="miter"/>
<path d="M286.2 511.72L289.7 518.71L282.7 518.71Z" fill="#040c7a" stroke="#2f88f5" stroke-width="1.1" stroke-linejoin="miter"/>
<path d="M302.7 509.62L306.2 516.61L299.2 516.61Z" fill="#040c7a" stroke="#2f88f5" stroke-width="1.1" stroke-linejoin="miter"/>
<path d="M319.7 506.72L323.2 513.71L316.2 513.71Z" fill="#040c7a" stroke="#2f88f5" stroke-width="1.1" stroke-linejoin="miter"/>
<path d="M334.7 501.52L338.2 508.51L331.2 508.51Z" fill="#040c7a" stroke="#2f88f5" stroke-width="1.1" stroke-linejoin="miter"/>
<path d="M344.8 495.93L348.3 502.91L341.3 502.91Z" fill="#040c7a" stroke="#2f88f5" stroke-width="1.1" stroke-linejoin="miter"/>
<path d="M352.6 490.02L356.1 497.01L349.1 497.01Z" fill="#040c7a" stroke="#2f88f5" stroke-width="1.1" stroke-linejoin="miter"/>
<path d="M357.3 483.43L360.8 490.41L353.8 490.41Z" fill="#040c7a" stroke="#2f88f5" stroke-width="1.1" stroke-linejoin="miter"/>
<path d="M361.2 476.93L364.7 483.91L357.7 483.91Z" fill="#040c7a" stroke="#2f88f5" stroke-width="1.1" stroke-linejoin="miter"/>
<path d="M365.9 470.22L369.4 477.21L362.4 477.21Z" fill="#040c7a" stroke="#2f88f5" stroke-width="1.1" stroke-linejoin="miter"/>
<path d="M369.8 465.02L373.3 472.01L366.3 472.01Z" fill="#040c7a" stroke="#2f88f5" stroke-width="1.1" stroke-linejoin="miter"/>
<path d="M373.7 460.02L377.2 467.01L370.2 467.01Z" fill="#040c7a" stroke="#2f88f5" stroke-width="1.1" stroke-linejoin="miter"/>
<path d="M378.4 455.72L381.9 462.71L374.9 462.71Z" fill="#040c7a" stroke="#2f88f5" stroke-width="1.1" stroke-linejoin="miter"/>
<path d="M382.3 451.93L385.8 458.91L378.8 458.91Z" fill="#040c7a" stroke="#2f88f5" stroke-width="1.1" stroke-linejoin="miter"/>
<text x="14" y="13.8" font-size="15.8" text-anchor="start" >A</text>
<text x="14.5" y="299.6" font-size="15.4" text-anchor="start" textLength="9.2" lengthAdjust="spacingAndGlyphs">B</text>
<text x="72.6" y="283.8" font-size="12.1" text-anchor="middle" >10</text>
<text x="129.2" y="283.8" font-size="12.1" text-anchor="middle" >20</text>
<text x="182.6" y="283.8" font-size="12.1" text-anchor="middle" >30</text>
<text x="236.9" y="283" font-size="12.1" text-anchor="middle" >40</text>
<text x="294" y="281.9" font-size="12.1" text-anchor="middle" >50</text>
<text x="346" y="281.9" font-size="12.1" text-anchor="middle" >60</text>
<text x="209.3" y="306.4" font-size="11.8" text-anchor="middle" >2Θ</text>
<text x="41.6" y="332.7" font-size="12.0" text-anchor="end" >35</text>
<text x="41.6" y="367.5" font-size="12.0" text-anchor="end" >30</text>
<text x="41.6" y="402.3" font-size="12.0" text-anchor="end" >25</text>
<text x="41.6" y="437.1" font-size="12.0" text-anchor="end" >20</text>
<text x="41.6" y="471.9" font-size="12.0" text-anchor="end" >15</text>
<text x="41.6" y="506.7" font-size="12.0" text-anchor="end" >10</text>
<text x="41.6" y="541.5" font-size="12.0" text-anchor="end" >5</text>
<text x="41.6" y="576.3" font-size="12.0" text-anchor="end" >0</text>
<text x="54" y="593.7" font-size="12.3" text-anchor="middle" >0</text>
<text x="118.2" y="593.5" font-size="12.3" text-anchor="middle" >0.2</text>
<text x="184" y="593.5" font-size="12.3" text-anchor="middle" >0.4</text>
<text x="255.1" y="593.5" font-size="12.3" text-anchor="middle" >0.6</text>
<text x="317.1" y="593" font-size="12.3" text-anchor="middle" >0.8</text>
<text x="385.5" y="593.5" font-size="12.3" text-anchor="middle" >1</text>
<text x="210.6" y="618.6" font-size="14.4">p/p<tspan font-size="10.8" dx="0.8" dy="-4.2">0</tspan></text>
<text transform="translate(13.8,546.6) rotate(-90)" x="0" y="0" font-size="14.3" textLength="192.6" lengthAdjust="spacingAndGlyphs">Quantity Adsorbed (mmol/g )</text>
</svg>
</body></html>
